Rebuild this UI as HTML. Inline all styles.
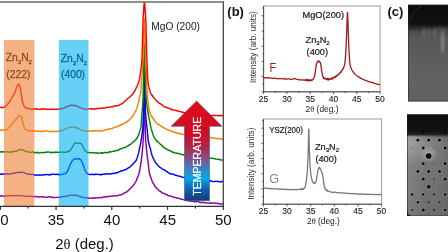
<!DOCTYPE html>
<html><head><meta charset="utf-8"><style>
html,body{margin:0;padding:0;background:#fff;width:448px;height:252px;overflow:hidden}
svg{display:block}
text{font-family:"Liberation Sans",Arial,sans-serif}
</style></head><body>
<svg width="448" height="252" viewBox="0 0 448 252">
<defs>
<clipPath id="ca"><rect x="0" y="2" width="223.3" height="204.3"/></clipPath>
<linearGradient id="tg" x1="0" y1="101" x2="0" y2="200.7" gradientUnits="userSpaceOnUse">
<stop offset="0" stop-color="#e40a1a"/>
<stop offset="0.3" stop-color="#d40a22"/>
<stop offset="0.45" stop-color="#b52242"/>
<stop offset="0.565" stop-color="#8a4a80"/>
<stop offset="0.66" stop-color="#4a78b8"/>
<stop offset="0.775" stop-color="#00aaea"/>
<stop offset="0.88" stop-color="#1462b0"/>
<stop offset="1" stop-color="#123a78"/>
</linearGradient>
<linearGradient id="c1" x1="0" y1="4.8" x2="0" y2="101.4" gradientUnits="userSpaceOnUse">
<stop offset="0" stop-color="#0b0b0b"/>
<stop offset="0.2" stop-color="#111"/>
<stop offset="0.235" stop-color="#262626"/>
<stop offset="0.28" stop-color="#4c4c4c"/>
<stop offset="0.34" stop-color="#575757"/>
<stop offset="0.42" stop-color="#585858"/>
<stop offset="0.6" stop-color="#5e5e5e"/>
<stop offset="0.8" stop-color="#626262"/>
<stop offset="1" stop-color="#616161"/>
</linearGradient>
<filter id="bl" x="-50%" y="-50%" width="200%" height="200%"><feGaussianBlur stdDeviation="1.2"/></filter>
<filter id="bl2" x="-50%" y="-50%" width="200%" height="200%"><feGaussianBlur stdDeviation="0.6"/></filter>
<linearGradient id="c2" x1="0" y1="114.4" x2="0" y2="215.7" gradientUnits="userSpaceOnUse">
<stop offset="0" stop-color="#0d0d0d"/>
<stop offset="0.17" stop-color="#131313"/>
<stop offset="0.2" stop-color="#262626"/>
<stop offset="0.225" stop-color="#6c6c6c"/>
<stop offset="0.28" stop-color="#7a7a7a"/>
<stop offset="0.5" stop-color="#737373"/>
<stop offset="1" stop-color="#6b6b6b"/>
</linearGradient>
<linearGradient id="c2h" x1="407" y1="0" x2="448" y2="0" gradientUnits="userSpaceOnUse">
<stop offset="0" stop-color="#fff" stop-opacity="0.12"/>
<stop offset="0.5" stop-color="#fff" stop-opacity="0"/>
<stop offset="1" stop-color="#000" stop-opacity="0.08"/>
</linearGradient>
<radialGradient id="glow" cx="411" cy="138" r="30" gradientUnits="userSpaceOnUse">
<stop offset="0" stop-color="#fff" stop-opacity="0.22"/>
<stop offset="1" stop-color="#fff" stop-opacity="0"/>
</radialGradient>
<radialGradient id="halo" cx="428.7" cy="154" r="9" gradientUnits="userSpaceOnUse">
<stop offset="0" stop-color="#b0b0b0" stop-opacity="0.8"/>
<stop offset="1" stop-color="#b0b0b0" stop-opacity="0"/>
</radialGradient>
</defs>

<!-- ===== Panel A ===== -->
<g clip-path="url(#ca)">
<path d="M0 196.03 L0.5 196.05 L1 195.94 L1.5 195.83 L2 195.82 L2.5 195.87 L3 196.12 L3.5 196.28 L4 196.07 L4.5 195.99 L5 196.16 L5.5 196.21 L6 196.07 L6.5 195.94 L7 196.07 L7.5 196.08 L8 195.86 L8.5 195.69 L9 195.56 L9.5 195.47 L10 195.54 L10.5 195.66 L11 195.73 L11.5 195.87 L12 195.93 L12.5 195.64 L13 195.35 L13.5 195.5 L14 195.72 L14.5 195.61 L15 195.4 L15.5 195.36 L16 195.35 L16.5 195.47 L17 195.64 L17.5 195.55 L18 195.61 L18.5 195.72 L19 195.6 L19.5 195.59 L20 195.68 L20.5 195.6 L21 195.5 L21.5 195.75 L22 195.87 L22.5 195.74 L23 195.9 L23.5 195.97 L24 196.06 L24.5 196.4 L25 196.3 L25.5 196.03 L26 196.16 L26.5 196.32 L27 196.34 L27.5 196.39 L28 196.42 L28.5 196.57 L29 196.61 L29.5 196.42 L30 196.35 L30.5 196.38 L31 196.34 L31.5 196.24 L32 196.28 L32.5 196.51 L33 196.78 L33.5 196.72 L34 196.38 L34.5 196.41 L35 196.49 L35.5 196.31 L36 196.4 L36.5 196.72 L37 196.96 L37.5 196.91 L38 196.7 L38.5 196.63 L39 196.82 L39.5 196.98 L40 196.83 L40.5 196.76 L41 196.86 L41.5 196.85 L42 196.74 L42.5 196.69 L43 196.78 L43.5 196.96 L44 197.17 L44.5 197.18 L45 197.1 L45.5 197.1 L46 197.12 L46.5 197.2 L47 197.21 L47.5 197.08 L48 196.97 L48.5 196.94 L49 196.72 L49.5 196.66 L50 196.9 L50.5 197.06 L51 197.4 L51.5 197.61 L52 197.31 L52.5 197.19 L53 197.41 L53.5 197.5 L54 197.44 L54.5 197.48 L55 197.63 L55.5 197.56 L56 197.36 L56.5 197.4 L57 197.39 L57.5 197.31 L58 197.33 L58.5 197.37 L59 197.49 L59.5 197.46 L60 197.28 L60.5 197.15 L61 196.97 L61.5 196.72 L62 196.78 L62.5 196.83 L63 196.7 L63.5 196.66 L64 196.56 L64.5 196.49 L65 196.43 L65.5 196.38 L66 196.16 L66.5 195.96 L67 196.16 L67.5 196.17 L68 195.82 L68.5 195.57 L69 195.41 L69.5 195.37 L70 195.46 L70.5 195.35 L71 195.2 L71.5 195.09 L72 194.97 L72.5 195.06 L73 195.3 L73.5 195.37 L74 195.36 L74.5 195.26 L75 195.15 L75.5 195.2 L76 195.31 L76.5 195.44 L77 195.52 L77.5 195.53 L78 195.58 L78.5 195.95 L79 196.38 L79.5 196.38 L80 196.42 L80.5 196.83 L81 197.05 L81.5 196.95 L82 197.04 L82.5 197.13 L83 197.24 L83.5 197.59 L84 197.76 L84.5 197.71 L85 197.75 L85.5 197.86 L86 197.88 L86.5 197.84 L87 197.75 L87.5 197.91 L88 198.21 L88.5 198.21 L89 198.19 L89.5 198.18 L90 198.08 L90.5 198.12 L91 198.22 L91.5 198.15 L92 198.08 L92.5 198.19 L93 198.31 L93.5 198.26 L94 198.04 L94.5 197.75 L95 197.68 L95.5 197.96 L96 198.03 L96.5 197.87 L97 197.87 L97.5 197.93 L98 197.92 L98.5 197.79 L99 197.68 L99.5 197.62 L100 197.46 L100.5 197.5 L101 197.61 L101.5 197.68 L102 197.8 L102.5 197.55 L103 196.98 L103.5 196.84 L104 197.01 L104.5 196.95 L105 196.99 L105.5 196.96 L106 196.53 L106.5 196.4 L107 196.69 L107.5 196.78 L108 196.69 L108.5 196.58 L109 196.35 L109.5 196.23 L110 196.28 L110.5 196.15 L111 196.1 L111.5 196.3 L112 196.37 L112.5 196.22 L113 196 L113.5 195.86 L114 195.78 L114.5 195.8 L115 195.84 L115.5 195.79 L116 195.82 L116.5 195.97 L117 195.88 L117.5 195.56 L118 195.48 L118.5 195.41 L119 195.12 L119.5 194.86 L120 194.87 L120.5 194.93 L121 194.76 L121.5 194.52 L122 194.4 L122.5 194.3 L123 193.87 L123.5 193.37 L124 193.11 L124.5 192.7 L125 192.38 L125.5 192.52 L126 192.55 L126.5 192.08 L127 191.49 L127.5 191.18 L128 190.94 L128.5 190.44 L129 189.84 L129.5 189.3 L130 188.85 L130.5 188.45 L131 187.96 L131.5 187.33 L132 186.72 L132.5 186.2 L133 185.68 L133.5 185.07 L134 184.33 L134.5 183.64 L135 182.89 L135.5 182.09 L136 181.36 L136.08 181.21 L136.16 180.92 L136.24 180.74 L136.32 180.46 L136.4 180.13 L136.48 180.03 L136.56 179.92 L136.64 179.67 L136.72 179.41 L136.8 179.22 L136.88 179.1 L136.96 178.97 L137.04 178.73 L137.12 178.53 L137.2 178.35 L137.28 178.05 L137.36 177.73 L137.44 177.56 L137.52 177.56 L137.6 177.45 L137.68 177.22 L137.76 176.99 L137.84 176.75 L137.92 176.52 L138 176.3 L138.08 176.1 L138.16 175.97 L138.24 175.85 L138.32 175.6 L138.4 175.28 L138.48 174.99 L138.56 174.82 L138.64 174.7 L138.72 174.45 L138.8 174.13 L138.88 173.81 L138.96 173.53 L139.04 173.34 L139.12 173.12 L139.2 172.78 L139.28 172.45 L139.36 172.15 L139.44 171.79 L139.52 171.38 L139.6 171.01 L139.68 170.64 L139.76 170.24 L139.84 169.79 L139.92 169.37 L140 168.92 L140.08 168.36 L140.16 167.82 L140.24 167.33 L140.32 166.81 L140.4 166.27 L140.48 165.82 L140.56 165.35 L140.64 164.77 L140.72 164.18 L140.8 163.65 L140.88 163.12 L140.96 162.54 L141.04 162.01 L141.12 161.5 L141.2 160.92 L141.28 160.38 L141.36 159.8 L141.44 159.16 L141.52 158.54 L141.6 157.91 L141.68 157.18 L141.76 156.44 L141.84 155.73 L141.92 155.07 L142 154.39 L142.08 153.6 L142.16 152.76 L142.24 151.93 L142.32 151.12 L142.4 150.28 L142.48 149.39 L142.56 148.48 L142.64 147.54 L142.72 146.6 L142.8 145.66 L142.88 144.7 L142.96 143.67 L143.04 142.58 L143.12 141.36 L143.2 139.98 L143.28 138.41 L143.36 136.53 L143.44 134.1 L143.52 131.21 L143.6 128.05 L143.68 124.8 L143.76 121.56 L143.84 118.44 L143.92 115.22 L144 111.95 L144.08 108.77 L144.16 105.4 L144.24 101.55 L144.32 98.34 L144.4 96.78 L144.48 98.31 L144.56 101.52 L144.64 105.38 L144.72 108.77 L144.8 112.03 L144.88 115.37 L144.96 118.56 L145.04 121.42 L145.12 124.22 L145.2 126.97 L145.28 129.62 L145.36 132.11 L145.44 134.38 L145.52 136.35 L145.6 137.96 L145.68 139.34 L145.76 140.61 L145.84 141.75 L145.92 142.79 L146 143.74 L146.08 144.6 L146.16 145.46 L146.24 146.33 L146.32 147.17 L146.4 148.01 L146.48 148.86 L146.56 149.65 L146.64 150.39 L146.72 151.17 L146.8 151.97 L146.88 152.68 L146.96 153.37 L147.04 154.13 L147.12 154.86 L147.2 155.53 L147.28 156.16 L147.36 156.79 L147.44 157.5 L147.52 158.23 L147.6 158.89 L147.68 159.5 L147.76 160.09 L147.84 160.67 L147.92 161.25 L148 161.89 L148.08 162.53 L148.16 163.12 L148.24 163.77 L148.32 164.38 L148.4 164.96 L148.48 165.62 L148.56 166.34 L148.64 167.07 L148.72 167.78 L148.8 168.5 L148.88 169.21 L148.96 169.86 L149.04 170.48 L149.12 171.1 L149.2 171.6 L149.28 171.98 L149.36 172.38 L149.44 172.75 L149.52 173.12 L149.6 173.51 L149.68 173.86 L149.76 174.18 L149.84 174.43 L149.92 174.7 L150 174.97 L150.08 175.25 L150.16 175.56 L150.24 175.85 L150.32 176.11 L150.4 176.3 L150.48 176.49 L150.56 176.76 L150.64 177.08 L150.72 177.31 L150.8 177.48 L150.88 177.65 L150.96 177.87 L151.04 178.15 L151.12 178.32 L151.2 178.5 L151.28 178.87 L151.36 179.15 L151.44 179.24 L151.52 179.41 L151.6 179.65 L151.68 179.9 L151.76 180.17 L151.84 180.34 L151.92 180.54 L152 180.79 L152.08 180.96 L152.16 181.13 L152.24 181.23 L152.32 181.3 L152.4 181.56 L152.48 181.92 L152.56 182.08 L152.64 182.19 L152.72 182.36 L152.8 182.52 L152.88 182.75 L152.96 182.94 L153 182.81 L153.5 183.56 L154 184.43 L154.5 185.33 L155 186.27 L155.5 186.98 L156 187.4 L156.5 187.91 L157 188.65 L157.5 189.18 L158 189.46 L158.5 189.97 L159 190.53 L159.5 190.97 L160 191.26 L160.5 191.5 L161 191.76 L161.5 192.23 L162 192.84 L162.5 193.13 L163 193.15 L163.5 193.16 L164 193.31 L164.5 193.69 L165 194.06 L165.5 194.29 L166 194.41 L166.5 194.53 L167 194.81 L167.5 195.18 L168 195.61 L168.5 195.83 L169 195.71 L169.5 195.7 L170 195.89 L170.5 196.02 L171 196.18 L171.5 196.37 L172 196.56 L172.5 196.84 L173 197.05 L173.5 197.17 L174 197.24 L174.5 197.26 L175 197.38 L175.5 197.59 L176 197.79 L176.5 198.01 L177 198.06 L177.5 198.07 L178 198.2 L178.5 198.27 L179 198.43 L179.5 198.52 L180 198.56 L180.5 198.89 L181 199.17 L181.5 199.24 L182 199.3 L182.5 199.37 L183 199.46 L183.5 199.62 L184 199.79 L184.5 199.88 L185 199.93 L185.5 200.15 L186 200.31 L186.5 200.33 L187 200.42 L187.5 200.46 L188 200.43 L188.5 200.66 L189 200.88 L189.5 200.95 L190 200.96 L190.5 200.9 L191 201.03 L191.5 201.26 L192 201.35 L192.5 201.22 L193 201.15 L193.5 201.47 L194 201.79 L194.5 201.82 L195 201.59 L195.5 201.5 L196 201.74 L196.5 201.63 L197 201.45 L197.5 201.64 L198 201.65 L198.5 201.64 L199 201.98 L199.5 202.27 L200 202.27 L200.5 202.42 L201 202.76 L201.5 202.77 L202 202.51 L202.5 202.31 L203 202.23 L203.5 202.38 L204 202.66 L204.5 202.77 L205 202.84 L205.5 202.85 L206 202.73 L206.5 202.81 L207 203.03 L207.5 203.15 L208 203.2 L208.5 203.11 L209 203.02 L209.5 203 L210 202.8 L210.5 202.8 L211 203.1 L211.5 203.25 L212 203.12 L212.5 202.95 L213 203.02 L213.5 203.1 L214 202.95 L214.5 202.88 L215 203.23 L215.5 203.59 L216 203.55 L216.5 203.42 L217 203.53 L217.5 203.44 L218 203.16 L218.5 203.4 L219 203.78 L219.5 203.97 L220 204.14 L220.5 204.08 L221 203.92 L221.5 203.92 L222 203.91 L222.5 203.8 L223 203.8" fill="none" stroke="#8e00a0" stroke-width="1.45" stroke-linejoin="round"/>
<path d="M0 174.12 L0.5 174.23 L1 174 L1.5 173.89 L2 174.06 L2.5 174.18 L3 174.19 L3.5 174.13 L4 173.92 L4.5 173.85 L5 174.01 L5.5 174.2 L6 174.12 L6.5 173.75 L7 173.74 L7.5 173.92 L8 173.78 L8.5 173.76 L9 174.06 L9.5 174.15 L10 173.98 L10.5 173.89 L11 173.9 L11.5 173.85 L12 173.73 L12.5 173.45 L13 173.31 L13.5 173.31 L14 173.23 L14.5 173.19 L15 172.99 L15.5 172.7 L16 172.61 L16.5 172.61 L17 172.55 L17.5 172.3 L18 172.24 L18.5 172.51 L19 172.72 L19.5 172.56 L20 172.21 L20.5 172.18 L21 172.32 L21.5 172.17 L22 172.1 L22.5 172.35 L23 172.51 L23.5 172.43 L24 172.43 L24.5 172.77 L25 173.2 L25.5 173.38 L26 173.54 L26.5 173.79 L27 173.92 L27.5 173.98 L28 174.03 L28.5 174.01 L29 174.02 L29.5 174.21 L30 174.49 L30.5 174.49 L31 174.36 L31.5 174.42 L32 174.59 L32.5 174.6 L33 174.36 L33.5 174.35 L34 174.78 L34.5 175.23 L35 175.14 L35.5 174.92 L36 175.1 L36.5 175.23 L37 174.95 L37.5 174.89 L38 175.1 L38.5 175.14 L39 175.01 L39.5 175.04 L40 175.34 L40.5 175.42 L41 175.2 L41.5 174.88 L42 174.65 L42.5 174.8 L43 174.93 L43.5 174.98 L44 174.98 L44.5 174.69 L45 174.54 L45.5 174.67 L46 174.67 L46.5 174.61 L47 174.61 L47.5 174.44 L48 174.41 L48.5 174.75 L49 174.94 L49.5 175.07 L50 175.1 L50.5 174.67 L51 174.24 L51.5 174.2 L52 174.27 L52.5 174.39 L53 174.36 L53.5 174.24 L54 174.29 L54.5 174.31 L55 174.41 L55.5 174.47 L56 174.41 L56.5 174.38 L57 174.3 L57.5 174.15 L58 174.09 L58.5 174.43 L59 174.9 L59.5 175.02 L60 174.85 L60.5 174.55 L61 174.42 L61.5 174.51 L62 174.41 L62.5 174.21 L63 174.13 L63.5 174.03 L64 173.88 L64.5 173.67 L65 173.41 L65.5 173.33 L66 173.19 L66.5 172.61 L67 171.93 L67.5 171.26 L68 170.34 L68.5 169.1 L69 167.8 L69.5 166.57 L70 165.33 L70.5 164.15 L71 163.11 L71.5 162.05 L72 161.12 L72.5 160.53 L73 160.01 L73.5 159.36 L74 159.02 L74.5 159.07 L75 159.14 L75.5 159.19 L76 159.01 L76.5 158.73 L77 158.77 L77.5 158.78 L78 158.79 L78.5 158.93 L79 158.81 L79.5 158.8 L80 159.14 L80.5 159.57 L81 160.17 L81.5 161 L82 162 L82.5 163.08 L83 164.27 L83.5 165.58 L84 167.02 L84.5 168.51 L85 169.89 L85.5 171.22 L86 172.18 L86.5 172.69 L87 173.32 L87.5 173.75 L88 173.95 L88.5 174.12 L89 174.26 L89.5 174.4 L90 174.57 L90.5 174.61 L91 174.59 L91.5 174.47 L92 174.27 L92.5 174.32 L93 174.46 L93.5 174.39 L94 174.42 L94.5 174.68 L95 174.56 L95.5 174.15 L96 174.07 L96.5 174.29 L97 174.4 L97.5 174.37 L98 174.4 L98.5 174.44 L99 174.48 L99.5 174.42 L100 174.52 L100.5 174.89 L101 174.93 L101.5 174.49 L102 174.22 L102.5 174.33 L103 174.39 L103.5 174.23 L104 174.19 L104.5 174.21 L105 174.06 L105.5 173.99 L106 173.9 L106.5 173.69 L107 173.71 L107.5 173.96 L108 174.07 L108.5 173.9 L109 173.67 L109.5 173.82 L110 174.08 L110.5 174.04 L111 173.79 L111.5 173.67 L112 173.68 L112.5 173.49 L113 173.23 L113.5 173.32 L114 173.49 L114.5 173.43 L115 173.22 L115.5 173.02 L116 172.86 L116.5 172.63 L117 172.63 L117.5 172.78 L118 172.46 L118.5 172 L119 171.82 L119.5 171.81 L120 171.67 L120.5 171.21 L121 170.83 L121.5 170.8 L122 170.77 L122.5 170.71 L123 170.63 L123.5 170.41 L124 170.06 L124.5 169.75 L125 169.76 L125.5 169.75 L126 169.37 L126.5 168.95 L127 168.77 L127.5 168.55 L128 168.08 L128.5 167.77 L129 167.62 L129.5 167.3 L130 166.85 L130.5 166.44 L131 166.01 L131.5 165.55 L132 165.02 L132.5 164.47 L133 164.08 L133.5 163.6 L134 162.91 L134.5 162.34 L135 161.77 L135.5 161.05 L136 160.27 L136.08 160.18 L136.16 160.23 L136.24 160.28 L136.32 160.04 L136.4 159.7 L136.48 159.49 L136.56 159.29 L136.64 159.13 L136.72 158.93 L136.8 158.66 L136.88 158.48 L136.96 158.32 L137.04 158.13 L137.12 157.84 L137.2 157.54 L137.28 157.37 L137.36 157.18 L137.44 156.93 L137.52 156.66 L137.6 156.31 L137.68 156.02 L137.76 155.91 L137.84 155.71 L137.92 155.4 L138 155.13 L138.08 154.86 L138.16 154.5 L138.24 154.16 L138.32 153.93 L138.4 153.64 L138.48 153.28 L138.56 152.97 L138.64 152.59 L138.72 152.23 L138.8 151.95 L138.88 151.54 L138.96 151.1 L139.04 150.78 L139.12 150.49 L139.2 150.09 L139.28 149.62 L139.36 149.22 L139.44 148.81 L139.52 148.38 L139.6 148 L139.68 147.63 L139.76 147.25 L139.84 146.92 L139.92 146.63 L140 146.3 L140.08 145.94 L140.16 145.63 L140.24 145.34 L140.32 144.97 L140.4 144.59 L140.48 144.2 L140.56 143.8 L140.64 143.36 L140.72 142.85 L140.8 142.38 L140.88 141.96 L140.96 141.56 L141.04 141.05 L141.12 140.42 L141.2 139.93 L141.28 139.52 L141.36 139.05 L141.44 138.51 L141.52 137.96 L141.6 137.43 L141.68 136.88 L141.76 136.31 L141.84 135.7 L141.92 135.07 L142 134.49 L142.08 133.92 L142.16 133.32 L142.24 132.69 L142.32 132.09 L142.4 131.55 L142.48 130.97 L142.56 130.37 L142.64 129.77 L142.72 129.16 L142.8 128.45 L142.88 127.58 L142.96 126.57 L143.04 125.37 L143.12 123.66 L143.2 121.47 L143.28 118.87 L143.36 115.9 L143.44 112.62 L143.52 109.04 L143.6 104.1 L143.68 98.22 L143.76 92.48 L143.84 87.77 L143.92 83.59 L144 79.68 L144.08 75.93 L144.16 71.87 L144.24 67.3 L144.32 63.56 L144.4 62.35 L144.48 63.58 L144.56 67.32 L144.64 71.87 L144.72 75.94 L144.8 79.84 L144.88 83.9 L144.96 87.99 L145.04 92.1 L145.12 96.66 L145.2 101.32 L145.28 105.55 L145.36 108.84 L145.44 110.89 L145.52 112.51 L145.6 113.91 L145.68 115.15 L145.76 116.23 L145.84 117.15 L145.92 118.02 L146 118.86 L146.08 119.7 L146.16 120.58 L146.24 121.4 L146.32 122.08 L146.4 122.71 L146.48 123.33 L146.56 123.97 L146.64 124.62 L146.72 125.29 L146.8 126.04 L146.88 126.81 L146.96 127.55 L147.04 128.3 L147.12 129.09 L147.2 129.92 L147.28 130.75 L147.36 131.58 L147.44 132.42 L147.52 133.22 L147.6 133.96 L147.68 134.81 L147.76 135.71 L147.84 136.57 L147.92 137.42 L148 138.24 L148.08 138.99 L148.16 139.73 L148.24 140.39 L148.32 140.86 L148.4 141.23 L148.48 141.67 L148.56 142.16 L148.64 142.61 L148.72 142.95 L148.8 143.32 L148.88 143.77 L148.96 144.12 L149.04 144.35 L149.12 144.57 L149.2 144.85 L149.28 145.12 L149.36 145.41 L149.44 145.76 L149.52 146.04 L149.6 146.35 L149.68 146.68 L149.76 146.81 L149.84 146.91 L149.92 147.2 L150 147.45 L150.08 147.56 L150.16 147.77 L150.24 148.05 L150.32 148.38 L150.4 148.71 L150.48 148.94 L150.56 149.27 L150.64 149.7 L150.72 150.09 L150.8 150.47 L150.88 150.83 L150.96 151.2 L151.04 151.53 L151.12 151.8 L151.2 152.16 L151.28 152.54 L151.36 152.9 L151.44 153.21 L151.52 153.45 L151.6 153.76 L151.68 154.11 L151.76 154.36 L151.84 154.63 L151.92 155.04 L152 155.28 L152.08 155.33 L152.16 155.64 L152.24 156.03 L152.32 156.2 L152.4 156.3 L152.48 156.45 L152.56 156.64 L152.64 156.84 L152.72 157.08 L152.8 157.32 L152.88 157.47 L152.96 157.58 L153 157.65 L153.5 158.74 L154 159.71 L154.5 160.7 L155 161.67 L155.5 162.47 L156 163.16 L156.5 163.81 L157 164.37 L157.5 164.89 L158 165.45 L158.5 165.95 L159 166.41 L159.5 166.97 L160 167.34 L160.5 167.6 L161 167.97 L161.5 168.4 L162 168.79 L162.5 169.19 L163 169.56 L163.5 169.61 L164 169.65 L164.5 169.93 L165 170.27 L165.5 170.81 L166 171.35 L166.5 171.53 L167 171.57 L167.5 171.97 L168 172.54 L168.5 172.76 L169 172.95 L169.5 173.41 L170 173.83 L170.5 173.88 L171 173.81 L171.5 173.95 L172 174.07 L172.5 174.02 L173 174.09 L173.5 174.29 L174 174.44 L174.5 174.67 L175 175.09 L175.5 175.36 L176 175.28 L176.5 175.33 L177 175.6 L177.5 175.91 L178 176.11 L178.5 176.07 L179 176.01 L179.5 176.07 L180 176.37 L180.5 176.75 L181 176.84 L181.5 176.82 L182 176.99 L182.5 177.26 L183 177.4 L183.5 177.41 L184 177.36 L184.5 177.3 L185 177.6 L185.5 177.89 L186 177.75 L186.5 177.89 L187 178.17 L187.5 178.18 L188 178.22 L188.5 178.4 L189 178.55 L189.5 178.49 L190 178.42 L190.5 178.58 L191 178.71 L191.5 178.85 L192 179.11 L192.5 179.34 L193 179.37 L193.5 179.36 L194 179.57 L194.5 179.79 L195 179.9 L195.5 179.88 L196 179.71 L196.5 179.72 L197 179.77 L197.5 179.68 L198 179.76 L198.5 179.84 L199 179.75 L199.5 179.66 L200 179.82 L200.5 180.16 L201 180.45 L201.5 180.5 L202 180.37 L202.5 180.26 L203 180.3 L203.5 180.44 L204 180.55 L204.5 180.78 L205 180.94 L205.5 180.66 L206 180.36 L206.5 180.33 L207 180.34 L207.5 180.59 L208 180.98 L208.5 180.89 L209 180.73 L209.5 181.03 L210 181.22 L210.5 181 L211 180.87 L211.5 180.99 L212 181.19 L212.5 181.38 L213 181.53 L213.5 181.61 L214 181.66 L214.5 181.66 L215 181.4 L215.5 181.12 L216 181.24 L216.5 181.4 L217 181.46 L217.5 181.54 L218 181.42 L218.5 181.44 L219 181.76 L219.5 181.82 L220 181.77 L220.5 181.89 L221 181.94 L221.5 181.61 L222 181.25 L222.5 181.36 L223 181.61" fill="none" stroke="#0000ff" stroke-width="1.45" stroke-linejoin="round"/>
<path d="M0 151.65 L0.5 151.87 L1 152.01 L1.5 151.77 L2 151.79 L2.5 152.08 L3 151.87 L3.5 151.65 L4 151.86 L4.5 151.93 L5 151.88 L5.5 151.93 L6 151.8 L6.5 151.71 L7 151.92 L7.5 152 L8 151.89 L8.5 151.89 L9 152.14 L9.5 152.28 L10 152.08 L10.5 151.98 L11 151.87 L11.5 151.77 L12 151.88 L12.5 151.96 L13 151.91 L13.5 151.65 L14 151.35 L14.5 151.27 L15 151.34 L15.5 151.37 L16 151.29 L16.5 151.07 L17 150.89 L17.5 150.67 L18 150.18 L18.5 149.69 L19 149.47 L19.5 149.58 L20 149.76 L20.5 149.72 L21 149.79 L21.5 149.97 L22 150.13 L22.5 150.15 L23 150.08 L23.5 150.17 L24 150.41 L24.5 150.66 L25 150.89 L25.5 151.28 L26 151.51 L26.5 151.42 L27 151.52 L27.5 151.7 L28 151.94 L28.5 152.16 L29 152.22 L29.5 152.15 L30 152.09 L30.5 152.23 L31 152.3 L31.5 152.35 L32 152.17 L32.5 151.84 L33 152.02 L33.5 152.48 L34 152.7 L34.5 152.61 L35 152.37 L35.5 152.34 L36 152.73 L36.5 152.9 L37 152.61 L37.5 152.3 L38 152.26 L38.5 152.74 L39 153.11 L39.5 152.97 L40 152.83 L40.5 152.62 L41 152.49 L41.5 152.54 L42 152.38 L42.5 152.38 L43 152.6 L43.5 152.71 L44 152.67 L44.5 152.52 L45 152.27 L45.5 152.2 L46 152.31 L46.5 152.24 L47 152.07 L47.5 152.09 L48 152.11 L48.5 151.98 L49 151.92 L49.5 152.07 L50 152.37 L50.5 152.7 L51 152.69 L51.5 152.29 L52 152.26 L52.5 152.5 L53 152.43 L53.5 152.49 L54 152.65 L54.5 152.39 L55 152.05 L55.5 152.09 L56 152.36 L56.5 152.35 L57 152.08 L57.5 152.13 L58 152.43 L58.5 152.46 L59 152.35 L59.5 152.45 L60 152.34 L60.5 152.05 L61 152.15 L61.5 152.31 L62 152.05 L62.5 151.84 L63 152.1 L63.5 152.47 L64 152.34 L64.5 152.14 L65 152.27 L65.5 152.17 L66 152.17 L66.5 152.27 L67 152.07 L67.5 151.68 L68 151.38 L68.5 151.26 L69 150.82 L69.5 150.52 L70 150.52 L70.5 150.14 L71 149.33 L71.5 148.41 L72 147.67 L72.5 146.93 L73 145.97 L73.5 145.02 L74 144.23 L74.5 143.61 L75 143.06 L75.5 142.9 L76 142.96 L76.5 142.86 L77 142.82 L77.5 143.03 L78 143.34 L78.5 143.32 L79 143.21 L79.5 143.22 L80 143.15 L80.5 143.36 L81 143.76 L81.5 144.1 L82 144.77 L82.5 145.77 L83 146.93 L83.5 148.15 L84 149.15 L84.5 149.95 L85 150.64 L85.5 151.03 L86 151.45 L86.5 152.14 L87 152.54 L87.5 152.39 L88 152.28 L88.5 152.42 L89 152.54 L89.5 152.68 L90 152.76 L90.5 152.82 L91 152.84 L91.5 152.74 L92 152.62 L92.5 152.57 L93 152.63 L93.5 152.72 L94 152.81 L94.5 152.9 L95 153.06 L95.5 153.06 L96 152.82 L96.5 152.75 L97 152.92 L97.5 153.27 L98 153.5 L98.5 153.31 L99 153.16 L99.5 153.09 L100 152.97 L100.5 153.01 L101 152.69 L101.5 152.58 L102 153.19 L102.5 153.21 L103 152.75 L103.5 152.66 L104 152.69 L104.5 152.54 L105 152.32 L105.5 152.38 L106 152.57 L106.5 152.66 L107 152.65 L107.5 152.67 L108 152.64 L108.5 152.34 L109 152 L109.5 151.71 L110 151.78 L110.5 151.99 L111 151.87 L111.5 151.79 L112 151.65 L112.5 151.4 L113 151.31 L113.5 151.21 L114 151.16 L114.5 151.19 L115 151.02 L115.5 150.65 L116 150.44 L116.5 150.41 L117 150.36 L117.5 150.45 L118 150.46 L118.5 150.06 L119 149.61 L119.5 149.29 L120 148.99 L120.5 148.75 L121 148.6 L121.5 148.51 L122 148.45 L122.5 148.35 L123 148.08 L123.5 147.74 L124 147.58 L124.5 147.59 L125 147.47 L125.5 147.24 L126 146.99 L126.5 146.63 L127 146.24 L127.5 146.12 L128 145.91 L128.5 145.39 L129 145.19 L129.5 145.04 L130 144.63 L130.5 144.32 L131 143.96 L131.5 143.47 L132 143.05 L132.5 142.59 L133 142.14 L133.5 141.75 L134 141.37 L134.5 140.96 L135 140.38 L135.5 139.84 L136 139.5 L136.08 139.47 L136.16 139.22 L136.24 138.99 L136.32 138.9 L136.4 138.87 L136.48 138.67 L136.56 138.46 L136.64 138.62 L136.72 138.61 L136.8 138.26 L136.88 138.16 L136.96 138.1 L137.04 137.97 L137.12 137.84 L137.2 137.6 L137.28 137.54 L137.36 137.51 L137.44 137.26 L137.52 137.05 L137.6 136.91 L137.68 136.82 L137.76 136.71 L137.84 136.5 L137.92 136.29 L138 136.1 L138.08 135.97 L138.16 135.7 L138.24 135.39 L138.32 135.27 L138.4 135.13 L138.48 135.03 L138.56 134.91 L138.64 134.57 L138.72 134.36 L138.8 134.27 L138.88 134.07 L138.96 133.84 L139.04 133.51 L139.12 133.16 L139.2 132.97 L139.28 132.82 L139.36 132.55 L139.44 132.22 L139.52 131.94 L139.6 131.66 L139.68 131.46 L139.76 131.29 L139.84 130.95 L139.92 130.57 L140 130.36 L140.08 130.19 L140.16 129.93 L140.24 129.57 L140.32 129.25 L140.4 128.93 L140.48 128.56 L140.56 128.32 L140.64 128.17 L140.72 127.9 L140.8 127.64 L140.88 127.34 L140.96 126.92 L141.04 126.46 L141.12 125.92 L141.2 124.96 L141.28 123.69 L141.36 122.3 L141.44 120.91 L141.52 119.71 L141.6 118.65 L141.68 117.61 L141.76 116.59 L141.84 115.64 L141.92 114.7 L142 113.72 L142.08 112.74 L142.16 111.78 L142.24 110.78 L142.32 109.72 L142.4 108.71 L142.48 107.76 L142.56 106.8 L142.64 105.85 L142.72 104.82 L142.8 103.64 L142.88 102.33 L142.96 100.84 L143.04 99.04 L143.12 96.57 L143.2 93.55 L143.28 90.12 L143.36 86.44 L143.44 82.71 L143.52 79.07 L143.6 75.09 L143.68 70.82 L143.76 66.55 L143.84 62.59 L143.92 59.22 L144 56.41 L144.08 53.86 L144.16 51.33 L144.24 48.4 L144.32 44.83 L144.4 43.15 L144.48 44.8 L144.56 48.39 L144.64 51.34 L144.72 53.96 L144.8 56.57 L144.88 59.28 L144.96 62.27 L145.04 65.58 L145.12 69.02 L145.2 72.46 L145.28 75.73 L145.36 78.68 L145.44 81.23 L145.52 83.66 L145.6 85.95 L145.68 88.11 L145.76 90.13 L145.84 91.98 L145.92 93.62 L146 95.03 L146.08 96.26 L146.16 97.37 L146.24 98.39 L146.32 99.33 L146.4 100.18 L146.48 100.97 L146.56 101.77 L146.64 102.54 L146.72 103.24 L146.8 103.94 L146.88 104.69 L146.96 105.37 L147.04 105.98 L147.12 106.6 L147.2 107.21 L147.28 107.78 L147.36 108.3 L147.44 108.85 L147.52 109.45 L147.6 110 L147.68 110.52 L147.76 111.03 L147.84 111.55 L147.92 112.12 L148 112.65 L148.08 113.13 L148.16 113.67 L148.24 114.14 L148.32 114.56 L148.4 114.99 L148.48 115.35 L148.56 115.71 L148.64 116.16 L148.72 116.62 L148.8 117.04 L148.88 117.44 L148.96 117.79 L149.04 118.15 L149.12 118.56 L149.2 118.94 L149.28 119.32 L149.36 119.73 L149.44 120.1 L149.52 120.5 L149.6 120.95 L149.68 121.45 L149.76 121.92 L149.84 122.33 L149.92 122.68 L150 123.07 L150.08 123.52 L150.16 123.93 L150.24 124.32 L150.32 124.77 L150.4 125.14 L150.48 125.47 L150.56 125.89 L150.64 126.28 L150.72 126.61 L150.8 126.94 L150.88 127.26 L150.96 127.62 L151.04 127.92 L151.12 128.2 L151.2 128.52 L151.28 128.78 L151.36 129 L151.44 129.25 L151.52 129.57 L151.6 129.88 L151.68 130.12 L151.76 130.45 L151.84 130.77 L151.92 130.95 L152 131.12 L152.08 131.48 L152.16 131.82 L152.24 132.04 L152.32 132.24 L152.4 132.47 L152.48 132.81 L152.56 133.13 L152.64 133.35 L152.72 133.56 L152.8 133.85 L152.88 134.15 L152.96 134.36 L153 134.4 L153.5 135.74 L154 136.96 L154.5 137.79 L155 138.6 L155.5 139.46 L156 140.22 L156.5 140.96 L157 141.36 L157.5 141.26 L158 141.46 L158.5 142.17 L159 142.86 L159.5 143.45 L160 143.93 L160.5 144.27 L161 144.67 L161.5 145.05 L162 145.57 L162.5 146.19 L163 146.72 L163.5 147.23 L164 147.45 L164.5 147.64 L165 148.18 L165.5 148.65 L166 148.75 L166.5 148.85 L167 149.33 L167.5 149.75 L168 149.83 L168.5 150.07 L169 150.51 L169.5 150.68 L170 150.73 L170.5 150.94 L171 151.22 L171.5 151.54 L172 151.87 L172.5 152.17 L173 152.19 L173.5 152.15 L174 152.48 L174.5 152.84 L175 153.01 L175.5 153.11 L176 153.03 L176.5 153.14 L177 153.39 L177.5 153.28 L178 153.34 L178.5 153.74 L179 153.88 L179.5 153.86 L180 153.86 L180.5 153.93 L181 154.15 L181.5 154.48 L182 154.57 L182.5 154.58 L183 154.82 L183.5 154.88 L184 154.99 L184.5 155.32 L185 155.32 L185.5 155.39 L186 155.68 L186.5 155.7 L187 155.74 L187.5 156 L188 156.13 L188.5 156.12 L189 156.14 L189.5 156.2 L190 156.28 L190.5 156.23 L191 156.39 L191.5 156.73 L192 156.71 L192.5 156.78 L193 157.02 L193.5 156.84 L194 156.66 L194.5 156.71 L195 156.76 L195.5 157.03 L196 157.13 L196.5 156.86 L197 156.81 L197.5 156.95 L198 156.94 L198.5 156.92 L199 156.9 L199.5 156.75 L200 156.83 L200.5 157.01 L201 157.1 L201.5 157.11 L202 157.08 L202.5 157.22 L203 157.23 L203.5 157.06 L204 156.94 L204.5 157.08 L205 157.28 L205.5 157.31 L206 157.5 L206.5 157.79 L207 157.95 L207.5 157.93 L208 157.64 L208.5 157.58 L209 157.85 L209.5 158.03 L210 158.07 L210.5 158.11 L211 158.24 L211.5 158.33 L212 158.33 L212.5 158.35 L213 158.38 L213.5 158.44 L214 158.59 L214.5 158.7 L215 158.81 L215.5 159.01 L216 159.09 L216.5 159.15 L217 159.16 L217.5 159.33 L218 159.58 L218.5 159.4 L219 159.18 L219.5 159.31 L220 159.7 L220.5 160.05 L221 160.07 L221.5 159.95 L222 159.87 L222.5 160.03 L223 160.21" fill="none" stroke="#008000" stroke-width="1.45" stroke-linejoin="round"/>
<path d="M0 130.45 L0.5 130.29 L1 130.27 L1.5 130.21 L2 130.03 L2.5 130.06 L3 129.92 L3.5 129.78 L4 130.09 L4.5 130.23 L5 129.96 L5.5 129.88 L6 129.92 L6.5 129.71 L7 129.45 L7.5 129.07 L8 128.52 L8.5 128.04 L9 127.52 L9.5 126.95 L10 126.4 L10.5 125.87 L11 125.33 L11.5 124.62 L12 123.86 L12.5 123.2 L13 122.57 L13.5 121.94 L14 121.43 L14.5 120.97 L15 120.43 L15.5 119.82 L16 119.29 L16.5 118.87 L17 118.28 L17.5 117.49 L18 116.89 L18.5 116.51 L19 116.06 L19.5 115.63 L20 115.49 L20.5 115.67 L21 116.27 L21.5 117.17 L22 118.84 L22.5 120.8 L23 123.14 L23.5 125.22 L24 127.13 L24.5 128.2 L25 128.89 L25.5 129.59 L26 129.95 L26.5 130.02 L27 130.15 L27.5 130.36 L28 130.6 L28.5 130.73 L29 130.69 L29.5 130.69 L30 130.72 L30.5 130.83 L31 131.13 L31.5 131.14 L32 130.82 L32.5 130.83 L33 131.03 L33.5 131.05 L34 130.97 L34.5 130.92 L35 131 L35.5 131.18 L36 131.22 L36.5 131.18 L37 131.21 L37.5 131.04 L38 130.96 L38.5 131.2 L39 131.3 L39.5 131.31 L40 131.5 L40.5 131.44 L41 131.1 L41.5 131.16 L42 131.59 L42.5 131.58 L43 131.17 L43.5 130.96 L44 131.03 L44.5 131.01 L45 130.98 L45.5 131.06 L46 130.99 L46.5 131.08 L47 131.32 L47.5 131.29 L48 131.32 L48.5 131.52 L49 131.52 L49.5 131.38 L50 131.27 L50.5 131.38 L51 131.67 L51.5 131.55 L52 131.25 L52.5 131.36 L53 131.56 L53.5 131.7 L54 131.88 L54.5 131.75 L55 131.42 L55.5 131.22 L56 131.17 L56.5 131.3 L57 131.6 L57.5 131.75 L58 131.3 L58.5 130.79 L59 130.85 L59.5 130.92 L60 130.73 L60.5 130.65 L61 130.71 L61.5 130.69 L62 130.46 L62.5 130.27 L63 130.19 L63.5 129.93 L64 129.59 L64.5 129.3 L65 129.17 L65.5 128.98 L66 128.58 L66.5 128.41 L67 128.28 L67.5 128 L68 127.72 L68.5 127.59 L69 127.69 L69.5 127.63 L70 127.19 L70.5 126.75 L71 126.76 L71.5 127.15 L72 127.31 L72.5 127.21 L73 127.13 L73.5 127.01 L74 127.04 L74.5 127.24 L75 127.29 L75.5 127.34 L76 127.73 L76.5 127.94 L77 127.78 L77.5 127.93 L78 128.34 L78.5 128.46 L79 128.62 L79.5 129.14 L80 129.45 L80.5 129.7 L81 130.11 L81.5 130.17 L82 130.17 L82.5 130.34 L83 130.41 L83.5 130.56 L84 130.75 L84.5 130.73 L85 130.88 L85.5 131.21 L86 131.27 L86.5 131.19 L87 131.15 L87.5 131.22 L88 131.27 L88.5 131.27 L89 131.23 L89.5 130.97 L90 130.75 L90.5 130.71 L91 130.86 L91.5 131.18 L92 131.23 L92.5 131 L93 130.89 L93.5 130.85 L94 130.7 L94.5 130.69 L95 130.7 L95.5 130.65 L96 130.79 L96.5 130.87 L97 130.7 L97.5 130.53 L98 130.7 L98.5 130.94 L99 130.9 L99.5 131.02 L100 131.01 L100.5 130.67 L101 130.6 L101.5 130.91 L102 130.92 L102.5 130.52 L103 130.43 L103.5 130.55 L104 130.57 L104.5 130.47 L105 130.17 L105.5 129.89 L106 129.83 L106.5 129.87 L107 129.45 L107.5 129.03 L108 129.11 L108.5 129.3 L109 129.31 L109.5 129.02 L110 128.82 L110.5 128.89 L111 128.83 L111.5 128.6 L112 128.46 L112.5 128.25 L113 127.96 L113.5 127.8 L114 127.58 L114.5 127.43 L115 127.31 L115.5 127.09 L116 127.06 L116.5 126.93 L117 126.5 L117.5 126.15 L118 126.01 L118.5 125.95 L119 125.78 L119.5 125.57 L120 125.32 L120.5 125.01 L121 124.7 L121.5 124.48 L122 124.46 L122.5 124.3 L123 124.07 L123.5 123.98 L124 123.52 L124.5 122.92 L125 122.67 L125.5 122.51 L126 122.51 L126.5 122.32 L127 121.7 L127.5 121.19 L128 120.83 L128.5 120.49 L129 120.18 L129.5 119.69 L130 119.13 L130.5 118.65 L131 118.04 L131.5 117.51 L132 117.01 L132.5 116.25 L133 115.35 L133.5 114.56 L134 113.8 L134.5 113.05 L135 112.21 L135.5 111.3 L136 110.44 L136.08 110.36 L136.16 110.18 L136.24 110.03 L136.32 109.88 L136.4 109.65 L136.48 109.42 L136.56 109.25 L136.64 108.97 L136.72 108.63 L136.8 108.44 L136.88 108.2 L136.96 107.88 L137.04 107.55 L137.12 107.26 L137.2 107.06 L137.28 106.87 L137.36 106.6 L137.44 106.33 L137.52 106.14 L137.6 105.86 L137.68 105.49 L137.76 105.16 L137.84 104.84 L137.92 104.55 L138 104.3 L138.08 104.05 L138.16 103.72 L138.24 103.38 L138.32 103.08 L138.4 102.79 L138.48 102.56 L138.56 102.32 L138.64 101.93 L138.72 101.47 L138.8 101.03 L138.88 100.65 L138.96 100.35 L139.04 100.08 L139.12 99.72 L139.2 99.35 L139.28 98.98 L139.36 98.67 L139.44 98.34 L139.52 97.9 L139.6 97.49 L139.68 97.17 L139.76 96.85 L139.84 96.45 L139.92 96.05 L140 95.68 L140.08 95.38 L140.16 95.16 L140.24 94.84 L140.32 94.36 L140.4 93.92 L140.48 93.44 L140.56 92.9 L140.64 92.38 L140.72 91.83 L140.8 91.21 L140.88 90.49 L140.96 89.63 L141.04 88.75 L141.12 87.8 L141.2 86.77 L141.28 85.71 L141.36 84.61 L141.44 83.45 L141.52 82.27 L141.6 81.05 L141.68 79.82 L141.76 78.65 L141.84 77.47 L141.92 76.25 L142 75.02 L142.08 73.8 L142.16 72.6 L142.24 71.39 L142.32 70.17 L142.4 68.93 L142.48 67.62 L142.56 66.27 L142.64 64.87 L142.72 63.45 L142.8 61.96 L142.88 60.39 L142.96 58.76 L143.04 57.04 L143.12 55.18 L143.2 53.23 L143.28 51.21 L143.36 49.09 L143.44 46.82 L143.52 44.38 L143.6 41.47 L143.68 38.23 L143.76 34.94 L143.84 31.92 L143.92 29.46 L144 27.43 L144.08 25.59 L144.16 23.87 L144.24 22.06 L144.32 20.02 L144.4 19.06 L144.48 20 L144.56 22.03 L144.64 23.84 L144.72 25.56 L144.8 27.39 L144.88 29.42 L144.96 31.86 L145.04 34.83 L145.12 38.08 L145.2 41.33 L145.28 44.33 L145.36 46.99 L145.44 49.53 L145.52 51.98 L145.6 54.35 L145.68 56.64 L145.76 58.88 L145.84 61.08 L145.92 63.18 L146 65.21 L146.08 67.21 L146.16 69.17 L146.24 71.12 L146.32 73.05 L146.4 75 L146.48 77.03 L146.56 79.16 L146.64 81.33 L146.72 83.5 L146.8 85.61 L146.88 87.6 L146.96 89.4 L147.04 90.96 L147.12 92.28 L147.2 93.46 L147.28 94.53 L147.36 95.51 L147.44 96.43 L147.52 97.31 L147.6 98.1 L147.68 98.86 L147.76 99.67 L147.84 100.41 L147.92 101.08 L148 101.73 L148.08 102.37 L148.16 102.99 L148.24 103.56 L148.32 104.11 L148.4 104.7 L148.48 105.3 L148.56 105.92 L148.64 106.52 L148.72 107.07 L148.8 107.54 L148.88 108.01 L148.96 108.56 L149.04 109.08 L149.12 109.59 L149.2 110.07 L149.28 110.41 L149.36 110.71 L149.44 111.05 L149.52 111.37 L149.6 111.65 L149.68 111.91 L149.76 112.23 L149.84 112.58 L149.92 112.85 L150 113.06 L150.08 113.23 L150.16 113.4 L150.24 113.61 L150.32 113.85 L150.4 114.06 L150.48 114.15 L150.56 114.21 L150.64 114.42 L150.72 114.7 L150.8 114.78 L150.88 114.92 L150.96 115.21 L151.04 115.38 L151.12 115.42 L151.2 115.58 L151.28 115.85 L151.36 115.95 L151.44 115.98 L151.52 116.01 L151.6 116.01 L151.68 116.18 L151.76 116.48 L151.84 116.67 L151.92 116.7 L152 116.7 L152.08 116.81 L152.16 116.97 L152.24 117.16 L152.32 117.47 L152.4 117.82 L152.48 118.02 L152.56 117.95 L152.64 117.79 L152.72 117.65 L152.8 117.61 L152.88 117.9 L152.96 118.25 L153 118.43 L153.5 119 L154 119.48 L154.5 120.08 L155 121.03 L155.5 122.04 L156 122.64 L156.5 122.93 L157 123.38 L157.5 124 L158 124.43 L158.5 124.54 L159 124.66 L159.5 125.01 L160 125.39 L160.5 125.7 L161 126.04 L161.5 126.37 L162 126.69 L162.5 127.06 L163 127.33 L163.5 127.53 L164 127.78 L164.5 128.12 L165 128.46 L165.5 128.7 L166 128.92 L166.5 129.05 L167 129.27 L167.5 129.63 L168 129.89 L168.5 130.21 L169 130.37 L169.5 130.32 L170 130.5 L170.5 130.79 L171 130.94 L171.5 131.19 L172 131.55 L172.5 131.77 L173 131.9 L173.5 132.04 L174 132.16 L174.5 132.26 L175 132.48 L175.5 132.73 L176 132.78 L176.5 132.74 L177 132.82 L177.5 133.1 L178 133.29 L178.5 133.29 L179 133.37 L179.5 133.81 L180 134.11 L180.5 133.99 L181 133.99 L181.5 133.94 L182 133.81 L182.5 134.05 L183 134.4 L183.5 134.65 L184 134.62 L184.5 134.55 L185 134.72 L185.5 134.85 L186 134.89 L186.5 134.89 L187 134.89 L187.5 135.12 L188 135.55 L188.5 135.8 L189 135.73 L189.5 135.7 L190 135.87 L190.5 136.03 L191 136.14 L191.5 136.07 L192 135.92 L192.5 135.94 L193 136.03 L193.5 136.1 L194 136.07 L194.5 135.85 L195 135.73 L195.5 135.81 L196 135.94 L196.5 136.23 L197 136.31 L197.5 136.29 L198 136.61 L198.5 136.83 L199 136.91 L199.5 137.18 L200 137.15 L200.5 136.89 L201 137.02 L201.5 137.16 L202 137.2 L202.5 137.2 L203 137.02 L203.5 136.94 L204 136.96 L204.5 137.05 L205 137.1 L205.5 137 L206 137.13 L206.5 137.42 L207 137.52 L207.5 137.38 L208 137.16 L208.5 137.21 L209 137.42 L209.5 137.52 L210 137.63 L210.5 137.78 L211 137.79 L211.5 137.76 L212 137.86 L212.5 137.93 L213 137.97 L213.5 138.14 L214 138.19 L214.5 138.14 L215 138.19 L215.5 138.36 L216 138.54 L216.5 138.59 L217 138.59 L217.5 138.63 L218 138.7 L218.5 138.77 L219 138.54 L219.5 138.44 L220 138.79 L220.5 138.82 L221 138.65 L221.5 138.71 L222 138.98 L222.5 139.34 L223 139.34" fill="none" stroke="#ff8000" stroke-width="1.45" stroke-linejoin="round"/>
<path d="M0 107.19 L0.5 107.39 L1 107.66 L1.5 107.75 L2 107.37 L2.5 107.12 L3 107.38 L3.5 107.51 L4 107.33 L4.5 107.13 L5 106.97 L5.5 106.51 L6 105.84 L6.5 105.33 L7 104.87 L7.5 104.36 L8 103.67 L8.5 102.97 L9 102.45 L9.5 101.77 L10 101 L10.5 100.21 L11 99.2 L11.5 98.28 L12 97.59 L12.5 96.77 L13 95.94 L13.5 95.11 L14 94.02 L14.5 92.86 L15 91.69 L15.5 90.45 L16 89.05 L16.5 87.53 L17 86.23 L17.5 85.21 L18 84.4 L18.5 84.15 L19 84.64 L19.5 85.48 L20 86.94 L20.5 89.05 L21 92.15 L21.5 95.6 L22 98.84 L22.5 101.37 L23 103.32 L23.5 104.69 L24 105.75 L24.5 106.69 L25 107.31 L25.5 107.72 L26 108.06 L26.5 108.21 L27 108.32 L27.5 108.46 L28 108.45 L28.5 108.49 L29 108.74 L29.5 109.08 L30 109.1 L30.5 108.97 L31 109.02 L31.5 108.95 L32 108.94 L32.5 109.03 L33 109.17 L33.5 109.31 L34 109.01 L34.5 108.8 L35 108.97 L35.5 108.91 L36 108.56 L36.5 108.46 L37 108.91 L37.5 109.24 L38 109.24 L38.5 109.35 L39 109.35 L39.5 109.21 L40 109.09 L40.5 108.94 L41 109 L41.5 109.23 L42 109.11 L42.5 108.92 L43 109.04 L43.5 109.05 L44 109.03 L44.5 109.13 L45 109.02 L45.5 108.8 L46 109.05 L46.5 109.32 L47 109.16 L47.5 109.23 L48 109.46 L48.5 109.34 L49 109.11 L49.5 109.15 L50 109.37 L50.5 109.4 L51 109.16 L51.5 109.13 L52 109.47 L52.5 109.61 L53 109.41 L53.5 109.26 L54 109.33 L54.5 109.43 L55 109.35 L55.5 109.16 L56 109.2 L56.5 109.18 L57 109.09 L57.5 109.19 L58 109.19 L58.5 109.11 L59 109 L59.5 108.81 L60 108.86 L60.5 108.96 L61 108.97 L61.5 108.81 L62 108.38 L62.5 108.17 L63 108.29 L63.5 108.42 L64 108.39 L64.5 107.96 L65 107.5 L65.5 107.21 L66 106.76 L66.5 106.55 L67 106.69 L67.5 106.48 L68 106.15 L68.5 106.06 L69 105.96 L69.5 105.77 L70 105.54 L70.5 105.16 L71 105.1 L71.5 105.5 L72 105.64 L72.5 105.44 L73 105.3 L73.5 105.21 L74 105.29 L74.5 105.58 L75 105.68 L75.5 105.66 L76 105.78 L76.5 105.96 L77 106.15 L77.5 106.25 L78 106.39 L78.5 106.88 L79 107.3 L79.5 107.33 L80 107.55 L80.5 108.01 L81 108.34 L81.5 108.37 L82 108.34 L82.5 108.49 L83 108.55 L83.5 108.7 L84 108.98 L84.5 109.13 L85 109.51 L85.5 109.85 L86 109.67 L86.5 109.31 L87 109.04 L87.5 108.9 L88 108.88 L88.5 108.88 L89 108.84 L89.5 108.89 L90 108.91 L90.5 108.76 L91 108.6 L91.5 108.71 L92 108.97 L92.5 109.11 L93 109.22 L93.5 109.16 L94 108.98 L94.5 108.82 L95 108.83 L95.5 109.15 L96 109.12 L96.5 108.68 L97 108.49 L97.5 108.44 L98 108.24 L98.5 108.31 L99 108.56 L99.5 108.48 L100 108.4 L100.5 108.38 L101 108.23 L101.5 108.17 L102 108.06 L102.5 107.99 L103 108 L103.5 108.05 L104 108.14 L104.5 108.11 L105 108.01 L105.5 107.79 L106 107.6 L106.5 107.36 L107 107.24 L107.5 107.45 L108 107.42 L108.5 107.27 L109 107.28 L109.5 107.15 L110 107.09 L110.5 107.14 L111 106.92 L111.5 106.75 L112 106.94 L112.5 106.87 L113 106.49 L113.5 106.17 L114 105.95 L114.5 106 L115 106.15 L115.5 105.99 L116 105.74 L116.5 105.84 L117 105.95 L117.5 105.68 L118 105.52 L118.5 105.6 L119 105.42 L119.5 105.08 L120 104.7 L120.5 104.33 L121 104.08 L121.5 103.88 L122 103.63 L122.5 103.37 L123 103.03 L123.5 102.59 L124 102.07 L124.5 101.42 L125 100.86 L125.5 100.52 L126 100.15 L126.5 99.74 L127 99.29 L127.5 98.75 L128 98.31 L128.5 98 L129 97.59 L129.5 97.15 L130 96.79 L130.5 96.31 L131 95.79 L131.5 95.49 L132 95.05 L132.5 94.29 L133 93.59 L133.5 92.92 L134 92.08 L134.5 91.25 L135 90.51 L135.5 89.53 L136 88.4 L136.08 88.25 L136.16 88.13 L136.24 87.93 L136.32 87.78 L136.4 87.63 L136.48 87.33 L136.56 87.12 L136.64 87.07 L136.72 86.97 L136.8 86.73 L136.88 86.47 L136.96 86.35 L137.04 86.26 L137.12 86.03 L137.2 85.71 L137.28 85.5 L137.36 85.28 L137.44 85.01 L137.52 84.92 L137.6 84.86 L137.68 84.61 L137.76 84.41 L137.84 84.35 L137.92 84.23 L138 83.98 L138.08 83.67 L138.16 83.5 L138.24 83.35 L138.32 83.05 L138.4 82.82 L138.48 82.74 L138.56 82.52 L138.64 82.07 L138.72 81.67 L138.8 81.46 L138.88 81.3 L138.96 81.12 L139.04 80.88 L139.12 80.54 L139.2 80.2 L139.28 79.88 L139.36 79.53 L139.44 79.18 L139.52 78.9 L139.6 78.63 L139.68 78.19 L139.76 77.65 L139.84 77.17 L139.92 76.7 L140 76.19 L140.08 75.69 L140.16 75.2 L140.24 74.68 L140.32 74.08 L140.4 73.45 L140.48 72.83 L140.56 72.24 L140.64 71.67 L140.72 71.12 L140.8 70.56 L140.88 69.99 L140.96 69.44 L141.04 68.87 L141.12 68.22 L141.2 67.55 L141.28 66.93 L141.36 66.34 L141.44 65.64 L141.52 64.83 L141.6 63.95 L141.68 63 L141.76 61.97 L141.84 60.88 L141.92 59.69 L142 57.98 L142.08 55.75 L142.16 53.19 L142.24 50.44 L142.32 47.66 L142.4 45 L142.48 42.45 L142.56 39.81 L142.64 37.1 L142.72 34.3 L142.8 31.13 L142.88 27.77 L142.96 24.51 L143.04 21.66 L143.12 19.5 L143.2 17.78 L143.28 16.27 L143.36 14.9 L143.44 13.66 L143.52 12.49 L143.6 11.36 L143.68 10.27 L143.76 9.13 L143.84 7.88 L143.92 6.59 L144 5.31 L144.08 4.1 L144.16 3.05 L144.24 2.25 L144.32 1.71 L144.4 1.43 L144.48 1.68 L144.56 2.26 L144.64 3.11 L144.72 4.17 L144.8 5.36 L144.88 6.64 L144.96 7.93 L145.04 9.13 L145.12 10.24 L145.2 11.25 L145.28 12.15 L145.36 13.11 L145.44 14.12 L145.52 15.19 L145.6 16.36 L145.68 17.66 L145.76 19.18 L145.84 21.02 L145.92 23.64 L146 26.82 L146.08 30.23 L146.16 33.51 L146.24 36.38 L146.32 39.02 L146.4 41.62 L146.48 44.31 L146.56 47.2 L146.64 50.35 L146.72 53.55 L146.8 56.62 L146.88 59.39 L146.96 61.74 L147.04 63.86 L147.12 65.85 L147.2 67.73 L147.28 69.54 L147.36 71.37 L147.44 73.26 L147.52 75.14 L147.6 76.88 L147.68 78.4 L147.76 79.59 L147.84 80.39 L147.92 81.07 L148 81.7 L148.08 82.33 L148.16 82.98 L148.24 83.6 L148.32 84.17 L148.4 84.63 L148.48 85.02 L148.56 85.42 L148.64 85.84 L148.72 86.26 L148.8 86.68 L148.88 87 L148.96 87.22 L149.04 87.56 L149.12 87.96 L149.2 88.24 L149.28 88.51 L149.36 88.83 L149.44 89.06 L149.52 89.3 L149.6 89.53 L149.68 89.82 L149.76 90.18 L149.84 90.44 L149.92 90.69 L150 91.01 L150.08 91.34 L150.16 91.59 L150.24 91.75 L150.32 91.91 L150.4 92.14 L150.48 92.37 L150.56 92.65 L150.64 92.91 L150.72 93.14 L150.8 93.41 L150.88 93.54 L150.96 93.62 L151.04 93.72 L151.12 93.87 L151.2 94.11 L151.28 94.21 L151.36 94.23 L151.44 94.44 L151.52 94.66 L151.6 94.78 L151.68 94.79 L151.76 94.72 L151.84 94.91 L151.92 95.26 L152 95.29 L152.08 95.26 L152.16 95.44 L152.24 95.51 L152.32 95.42 L152.4 95.45 L152.48 95.71 L152.56 96.04 L152.64 96.21 L152.72 96.31 L152.8 96.49 L152.88 96.52 L152.96 96.46 L153 96.54 L153.5 97.24 L154 97.86 L154.5 98.58 L155 99.27 L155.5 99.77 L156 100.19 L156.5 100.87 L157 101.5 L157.5 101.66 L158 101.91 L158.5 102.51 L159 103 L159.5 103.21 L160 103.45 L160.5 103.85 L161 104.09 L161.5 104.33 L162 104.78 L162.5 105.3 L163 105.79 L163.5 106.14 L164 106.44 L164.5 106.77 L165 107.04 L165.5 107.17 L166 107.11 L166.5 107.29 L167 107.66 L167.5 107.78 L168 107.98 L168.5 108.23 L169 108.36 L169.5 108.64 L170 108.79 L170.5 108.75 L171 109.22 L171.5 109.67 L172 109.57 L172.5 109.58 L173 109.91 L173.5 110.04 L174 109.89 L174.5 109.97 L175 110.22 L175.5 110.43 L176 110.6 L176.5 110.71 L177 110.77 L177.5 110.84 L178 110.91 L178.5 111.04 L179 111.26 L179.5 111.35 L180 111.53 L180.5 111.87 L181 111.84 L181.5 111.82 L182 112.08 L182.5 112.2 L183 112.32 L183.5 112.46 L184 112.56 L184.5 112.61 L185 112.62 L185.5 112.91 L186 113.03 L186.5 112.78 L187 112.92 L187.5 113.13 L188 112.98 L188.5 113.17 L189 113.59 L189.5 113.74 L190 113.89 L190.5 113.87 L191 113.78 L191.5 113.89 L192 114.07 L192.5 114.17 L193 114.14 L193.5 114.1 L194 114.24 L194.5 114.45 L195 114.36 L195.5 114.1 L196 114.15 L196.5 114.32 L197 114.31 L197.5 114.28 L198 114.31 L198.5 114.49 L199 114.76 L199.5 114.88 L200 114.98 L200.5 115.11 L201 115.24 L201.5 115.47 L202 115.37 L202.5 115.06 L203 114.69 L203.5 114.47 L204 114.79 L204.5 115.25 L205 115.32 L205.5 115.22 L206 115.34 L206.5 115.36 L207 115.09 L207.5 114.87 L208 115.03 L208.5 115.28 L209 115.39 L209.5 115.29 L210 115.23 L210.5 115.48 L211 115.62 L211.5 115.64 L212 115.73 L212.5 115.7 L213 115.41 L213.5 115.1 L214 115.23 L214.5 115.66 L215 115.75 L215.5 115.56 L216 115.46 L216.5 115.51 L217 115.53 L217.5 115.45 L218 115.62 L218.5 115.93 L219 115.78 L219.5 115.42 L220 115.29 L220.5 115.46 L221 115.78 L221.5 115.83 L222 115.7 L222.5 115.64 L223 115.64" fill="none" stroke="#ff0000" stroke-width="1.45" stroke-linejoin="round"/>

</g>
<g font-size="10.3" fill="#000" stroke="#000" stroke-width="0.3">
<text x="5.8" y="61">Zn<tspan font-size="6" dy="2.9">3</tspan><tspan dy="-2.9">N</tspan><tspan font-size="6" dy="2.9">2</tspan></text>
<text x="6.3" y="77.7">(222)</text>
<text x="60.8" y="61.6">Zn<tspan font-size="6" dy="2.9">3</tspan><tspan dy="-2.9">N</tspan><tspan font-size="6" dy="2.9">2</tspan></text>
<text x="61" y="77.8">(400)</text>
</g>
<rect x="4" y="40" width="30.4" height="166.3" fill="#ed7d31" opacity="0.6"/>
<rect x="58.9" y="40" width="29.6" height="166.3" fill="#00b0f0" opacity="0.6"/>
<text x="151.3" y="30" font-size="10.2" fill="#1a1a1a">MgO (200)</text>
<path d="M196.6 101 L222 126.3 L209.5 126.3 L209.5 200.7 L184.5 200.7 L184.5 126.3 L171.1 126.3 Z" fill="url(#tg)" stroke="#3a5a8a" stroke-width="0.6"/>
<text transform="translate(201.2 195.8) rotate(-90)" font-size="11.5" fill="#fff" stroke="#fff" stroke-width="0.2" textLength="79" lengthAdjust="spacingAndGlyphs">TEMPERATURE</text>
<g stroke="#555" fill="none">
<line x1="0" y1="2" x2="223.3" y2="2" stroke-width="1.6" stroke="#6a6a6a"/>
<line x1="223.3" y1="1.2" x2="223.3" y2="206.3" stroke-width="1.3" stroke="#444"/>
<line x1="0" y1="206.3" x2="224" y2="206.3" stroke-width="1.3" stroke="#333"/>
</g>
<g stroke="#333" stroke-width="1.2"><line x1="0.3" y1="206.3" x2="0.3" y2="209.9"/><line x1="28.18" y1="206.3" x2="28.18" y2="208.5"/><line x1="56.05" y1="206.3" x2="56.05" y2="209.9"/><line x1="83.92" y1="206.3" x2="83.92" y2="208.5"/><line x1="111.8" y1="206.3" x2="111.8" y2="209.9"/><line x1="139.68" y1="206.3" x2="139.68" y2="208.5"/><line x1="167.55" y1="206.3" x2="167.55" y2="209.9"/><line x1="195.43" y1="206.3" x2="195.43" y2="208.5"/><line x1="223.3" y1="206.3" x2="223.3" y2="209.9"/></g>
<g font-size="15" fill="#111" text-anchor="middle">
<text x="0.3" y="225">30</text><text x="56.1" y="225">35</text><text x="111.9" y="225">40</text><text x="167.7" y="225">45</text><text x="223.3" y="225">50</text>
</g>
<text x="55.2" y="248.8" font-size="15" fill="#111">2<tspan font-family="'Liberation Serif', serif" font-size="14.5">θ</tspan> (deg.)</text>

<!-- ===== Panel B ===== -->
<text x="227.3" y="16.4" font-size="13" font-weight="bold" fill="#111">(b)</text>
<g stroke="#999" stroke-width="1" fill="none">
<rect x="263.6" y="6" width="116.5" height="85.8"/>
<rect x="263.4" y="119" width="118.2" height="85.2"/>
</g>
<g stroke="#444" stroke-width="0.9">
<line x1="263.6" y1="6" x2="263.6" y2="91.8"/><line x1="263.6" y1="91.8" x2="380.1" y2="91.8"/>
<line x1="263.4" y1="119" x2="263.4" y2="204.2"/><line x1="263.4" y1="204.2" x2="381.6" y2="204.2"/>
<line x1="263.6" y1="91.8" x2="263.6" y2="94"/><line x1="275.25" y1="91.8" x2="275.25" y2="93.1"/><line x1="286.9" y1="91.8" x2="286.9" y2="94"/><line x1="298.55" y1="91.8" x2="298.55" y2="93.1"/><line x1="310.2" y1="91.8" x2="310.2" y2="94"/><line x1="321.85" y1="91.8" x2="321.85" y2="93.1"/><line x1="333.5" y1="91.8" x2="333.5" y2="94"/><line x1="345.15" y1="91.8" x2="345.15" y2="93.1"/><line x1="356.8" y1="91.8" x2="356.8" y2="94"/><line x1="368.45" y1="91.8" x2="368.45" y2="93.1"/><line x1="380.1" y1="91.8" x2="380.1" y2="94"/><line x1="263.6" y1="91.8" x2="261.6" y2="91.8"/><line x1="263.6" y1="84.2" x2="262.4" y2="84.2"/><line x1="263.6" y1="76.6" x2="261.6" y2="76.6"/><line x1="263.6" y1="69" x2="262.4" y2="69"/><line x1="263.6" y1="61.4" x2="261.6" y2="61.4"/><line x1="263.6" y1="53.8" x2="262.4" y2="53.8"/><line x1="263.6" y1="46.2" x2="261.6" y2="46.2"/><line x1="263.6" y1="38.6" x2="262.4" y2="38.6"/><line x1="263.6" y1="31" x2="261.6" y2="31"/><line x1="263.6" y1="23.4" x2="262.4" y2="23.4"/><line x1="263.6" y1="15.8" x2="261.6" y2="15.8"/><line x1="263.6" y1="8.2" x2="262.4" y2="8.2"/>
<line x1="263.4" y1="204.2" x2="263.4" y2="206.4"/><line x1="275.22" y1="204.2" x2="275.22" y2="205.5"/><line x1="287.04" y1="204.2" x2="287.04" y2="206.4"/><line x1="298.86" y1="204.2" x2="298.86" y2="205.5"/><line x1="310.68" y1="204.2" x2="310.68" y2="206.4"/><line x1="322.5" y1="204.2" x2="322.5" y2="205.5"/><line x1="334.32" y1="204.2" x2="334.32" y2="206.4"/><line x1="346.14" y1="204.2" x2="346.14" y2="205.5"/><line x1="357.96" y1="204.2" x2="357.96" y2="206.4"/><line x1="369.78" y1="204.2" x2="369.78" y2="205.5"/><line x1="381.6" y1="204.2" x2="381.6" y2="206.4"/><line x1="263.4" y1="204.2" x2="261.4" y2="204.2"/><line x1="263.4" y1="196.6" x2="262.2" y2="196.6"/><line x1="263.4" y1="189" x2="261.4" y2="189"/><line x1="263.4" y1="181.4" x2="262.2" y2="181.4"/><line x1="263.4" y1="173.8" x2="261.4" y2="173.8"/><line x1="263.4" y1="166.2" x2="262.2" y2="166.2"/><line x1="263.4" y1="158.6" x2="261.4" y2="158.6"/><line x1="263.4" y1="151" x2="262.2" y2="151"/><line x1="263.4" y1="143.4" x2="261.4" y2="143.4"/><line x1="263.4" y1="135.8" x2="262.2" y2="135.8"/><line x1="263.4" y1="128.2" x2="261.4" y2="128.2"/><line x1="263.4" y1="120.6" x2="262.2" y2="120.6"/>
</g>
<path d="M263.6 77.56 L264.1 77.71 L264.6 77.86 L265.1 77.89 L265.6 77.76 L266.1 77.75 L266.6 77.85 L267.1 77.78 L267.6 77.68 L268.1 77.74 L268.6 77.9 L269.1 77.97 L269.6 78.03 L270.1 78.13 L270.6 78.18 L271.1 78.14 L271.6 78.1 L272.1 78.13 L272.6 78.24 L273.1 78.3 L273.6 78.29 L274.1 78.28 L274.6 78.21 L275.1 78.13 L275.6 78.23 L276.1 78.42 L276.6 78.55 L277.1 78.6 L277.6 78.58 L278.1 78.63 L278.6 78.72 L279.1 78.67 L279.6 78.56 L280.1 78.57 L280.6 78.59 L281.1 78.6 L281.6 78.73 L282.1 78.8 L282.6 78.82 L283.1 78.9 L283.6 78.84 L284.1 78.77 L284.6 78.77 L285.1 78.8 L285.6 78.89 L286.1 79 L286.6 79.1 L287.1 79.11 L287.6 79.04 L288.1 78.95 L288.6 78.9 L289.1 78.96 L289.6 79.06 L290.1 79.18 L290.6 79.27 L291.1 79.36 L291.6 79.37 L292.1 79.31 L292.6 79.16 L293.1 78.96 L293.6 78.78 L294.1 78.57 L294.6 78.4 L295.1 78.58 L295.6 78.91 L296.1 79.09 L296.6 79.23 L297.1 79.29 L297.6 79.38 L298.1 79.58 L298.6 79.67 L299.1 79.75 L299.6 79.97 L300.1 79.98 L300.6 79.83 L301.1 79.87 L301.6 79.93 L302.1 79.92 L302.6 79.93 L303.1 79.98 L303.6 80.08 L304.1 80.08 L304.6 80.09 L305 80.16 L305.05 80.16 L305.1 80.1 L305.15 80.14 L305.2 80.2 L305.25 80.13 L305.3 80 L305.35 79.93 L305.4 79.92 L305.45 79.93 L305.5 80.01 L305.55 79.98 L305.6 79.88 L305.65 79.99 L305.7 80.11 L305.75 80.06 L305.8 80.04 L305.85 80.1 L305.9 80.01 L305.95 79.89 L306 79.93 L306.05 80.07 L306.1 80.22 L306.15 80.24 L306.2 80.11 L306.25 79.97 L306.3 79.95 L306.35 79.99 L306.4 79.97 L306.45 79.95 L306.5 80.07 L306.55 80.17 L306.6 80.16 L306.65 80.12 L306.7 80.01 L306.75 79.94 L306.8 80.07 L306.85 80.26 L306.9 80.26 L306.95 80.21 L307 80.22 L307.05 80.25 L307.1 80.3 L307.15 80.25 L307.2 80.19 L307.25 80.19 L307.3 80.1 L307.35 80 L307.4 80.03 L307.45 80.14 L307.5 80.19 L307.55 80.17 L307.6 80.22 L307.65 80.29 L307.7 80.2 L307.75 80.18 L307.8 80.35 L307.85 80.41 L307.9 80.24 L307.95 80.06 L308 80.12 L308.05 80.26 L308.1 80.33 L308.15 80.31 L308.2 80.22 L308.25 80.21 L308.3 80.28 L308.35 80.33 L308.4 80.35 L308.45 80.31 L308.5 80.18 L308.55 80.06 L308.6 80.08 L308.65 80.12 L308.7 80.2 L308.75 80.39 L308.8 80.45 L308.85 80.31 L308.9 80.19 L308.95 80.19 L309 80.28 L309.05 80.39 L309.1 80.4 L309.15 80.32 L309.2 80.18 L309.25 80.06 L309.3 80.08 L309.35 80.17 L309.4 80.28 L309.45 80.28 L309.5 80.21 L309.55 80.3 L309.6 80.38 L309.65 80.24 L309.7 80.16 L309.75 80.21 L309.8 80.21 L309.85 80.25 L309.9 80.41 L309.95 80.4 L310 80.22 L310.05 80.22 L310.1 80.3 L310.15 80.28 L310.2 80.26 L310.25 80.3 L310.3 80.35 L310.35 80.29 L310.4 80.26 L310.45 80.29 L310.5 80.29 L310.55 80.32 L310.6 80.36 L310.65 80.33 L310.7 80.29 L310.75 80.23 L310.8 80.14 L310.85 80.1 L310.9 80.14 L310.95 80.19 L311 80.15 L311.05 80.13 L311.1 80.23 L311.15 80.21 L311.2 80.17 L311.25 80.29 L311.3 80.28 L311.35 80.24 L311.4 80.29 L311.45 80.22 L311.5 80.23 L311.55 80.29 L311.6 80.17 L311.65 80.14 L311.7 80.17 L311.75 80.09 L311.8 80.1 L311.85 80.25 L311.9 80.3 L311.95 80.13 L312 80.09 L312.05 80.14 L312.1 80.06 L312.15 79.99 L312.2 80.03 L312.25 80.06 L312.3 80.07 L312.35 80.09 L312.4 80.05 L312.45 79.97 L312.5 79.86 L312.55 79.76 L312.6 79.75 L312.65 79.74 L312.7 79.68 L312.75 79.61 L312.8 79.59 L312.85 79.67 L312.9 79.64 L312.95 79.48 L313 79.37 L313.05 79.34 L313.1 79.32 L313.15 79.24 L313.2 79.12 L313.25 79.04 L313.3 78.95 L313.35 78.87 L313.4 78.82 L313.45 78.74 L313.5 78.68 L313.55 78.64 L313.6 78.57 L313.65 78.48 L313.7 78.37 L313.75 78.26 L313.8 78.18 L313.85 78.1 L313.9 78.01 L313.95 77.93 L314 77.8 L314.05 77.63 L314.1 77.51 L314.15 77.4 L314.2 77.27 L314.25 77.07 L314.3 76.88 L314.35 76.77 L314.4 76.64 L314.45 76.44 L314.5 76.24 L314.55 76.02 L314.6 75.79 L314.65 75.62 L314.7 75.44 L314.75 75.22 L314.8 74.99 L314.85 74.74 L314.9 74.49 L314.95 74.25 L315 74.03 L315.05 73.78 L315.1 73.44 L315.15 73.06 L315.2 72.66 L315.25 72.28 L315.3 71.88 L315.35 71.44 L315.4 71.01 L315.45 70.61 L315.5 70.24 L315.55 69.86 L315.6 69.48 L315.65 69.15 L315.7 68.83 L315.75 68.45 L315.8 68.11 L315.85 67.8 L315.9 67.46 L315.95 67.07 L316 66.71 L316.05 66.43 L316.1 66.13 L316.15 65.75 L316.2 65.43 L316.25 65.17 L316.3 64.92 L316.35 64.65 L316.4 64.39 L316.45 64.13 L316.5 63.95 L316.55 63.83 L316.6 63.64 L316.65 63.38 L316.7 63.27 L316.75 63.22 L316.8 63.04 L316.85 62.86 L316.9 62.77 L316.95 62.67 L317 62.55 L317.05 62.43 L317.1 62.33 L317.15 62.25 L317.2 62.17 L317.25 62.06 L317.3 61.99 L317.35 61.98 L317.4 61.98 L317.45 61.91 L317.5 61.82 L317.55 61.8 L317.6 61.79 L317.65 61.77 L317.7 61.76 L317.75 61.77 L317.8 61.7 L317.85 61.54 L317.9 61.48 L317.95 61.51 L318 61.47 L318.05 61.34 L318.1 61.18 L318.15 61.15 L318.2 61.29 L318.25 61.38 L318.3 61.3 L318.35 61.21 L318.4 61.24 L318.45 61.23 L318.5 61.23 L318.55 61.22 L318.6 61.12 L318.65 61.03 L318.7 60.97 L318.75 60.98 L318.8 61.06 L318.85 61.21 L318.9 61.31 L318.95 61.36 L319 61.34 L319.05 61.3 L319.1 61.34 L319.15 61.39 L319.2 61.45 L319.25 61.45 L319.3 61.42 L319.35 61.48 L319.4 61.55 L319.45 61.6 L319.5 61.73 L319.55 61.8 L319.6 61.73 L319.65 61.65 L319.7 61.65 L319.75 61.76 L319.8 61.81 L319.85 61.84 L319.9 62 L319.95 62.12 L320 62.15 L320.05 62.21 L320.1 62.32 L320.15 62.43 L320.2 62.5 L320.25 62.66 L320.3 62.86 L320.35 62.96 L320.4 63.05 L320.45 63.15 L320.5 63.26 L320.55 63.43 L320.6 63.6 L320.65 63.75 L320.7 63.99 L320.75 64.27 L320.8 64.52 L320.85 64.76 L320.9 65.06 L320.95 65.42 L321 65.82 L321.05 66.2 L321.1 66.56 L321.15 66.92 L321.2 67.29 L321.25 67.7 L321.3 68.08 L321.35 68.45 L321.4 68.82 L321.45 69.19 L321.5 69.5 L321.55 69.78 L321.6 70.1 L321.65 70.47 L321.7 70.84 L321.75 71.18 L321.8 71.51 L321.85 71.86 L321.9 72.22 L321.95 72.55 L322 72.86 L322.05 73.15 L322.1 73.45 L322.15 73.75 L322.2 73.99 L322.25 74.22 L322.3 74.49 L322.35 74.75 L322.4 74.97 L322.45 75.18 L322.5 75.35 L322.55 75.5 L322.6 75.67 L322.65 75.89 L322.7 76.13 L322.75 76.31 L322.8 76.46 L322.85 76.6 L322.9 76.71 L322.95 76.81 L323 76.94 L323.05 77.07 L323.1 77.15 L323.15 77.21 L323.2 77.24 L323.25 77.25 L323.3 77.3 L323.35 77.39 L323.4 77.45 L323.45 77.44 L323.5 77.58 L323.55 77.77 L323.6 77.71 L323.65 77.66 L323.7 77.79 L323.75 77.91 L323.8 77.93 L323.85 77.96 L323.9 77.98 L323.95 78.08 L324 78.24 L324.05 78.17 L324.1 78.06 L324.15 78.11 L324.2 78.21 L324.25 78.28 L324.3 78.32 L324.35 78.26 L324.4 78.23 L324.45 78.31 L324.5 78.35 L324.55 78.31 L324.6 78.28 L324.65 78.32 L324.7 78.39 L324.75 78.41 L324.8 78.41 L324.85 78.49 L324.9 78.53 L324.95 78.48 L325 78.48 L325.05 78.57 L325.1 78.58 L325.15 78.5 L325.2 78.5 L325.25 78.55 L325.3 78.66 L325.35 78.77 L325.4 78.76 L325.45 78.74 L325.5 78.82 L325.55 78.98 L325.6 79.03 L325.65 78.94 L325.7 78.79 L325.75 78.81 L325.8 78.96 L325.85 78.96 L325.9 78.95 L325.95 78.95 L326 78.94 L326.05 79.03 L326.1 79.08 L326.15 79.06 L326.2 79.05 L326.25 79.07 L326.3 79.1 L326.35 79.2 L326.4 79.29 L326.45 79.28 L326.5 79.26 L326.55 79.13 L326.6 79.02 L326.65 79.14 L326.7 79.22 L326.75 79.2 L326.8 79.15 L326.85 79.09 L326.9 79.17 L326.95 79.34 L327 79.38 L327.05 79.24 L327.1 79.23 L327.15 79.33 L327.2 79.36 L327.25 79.43 L327.3 79.35 L327.35 79.26 L327.4 79.42 L327.45 79.43 L327.5 79.32 L327.55 79.36 L327.6 79.41 L327.65 79.4 L327.7 79.26 L327.75 79.16 L327.8 79.31 L327.85 79.49 L327.9 79.6 L327.95 79.57 L328 79.42 L328.05 79.27 L328.1 79.22 L328.15 79.2 L328.2 79.18 L328.25 79.11 L328.3 79.05 L328.35 79.17 L328.4 79.38 L328.45 79.52 L328.5 79.42 L328.55 79.27 L328.6 79.23 L328.65 79.14 L328.7 79.06 L328.75 79.12 L328.8 79.3 L328.85 79.29 L328.9 79.15 L328.95 79.21 L329 79.32 L329.05 79.31 L329.1 79.22 L329.15 79.12 L329.2 79.11 L329.25 79.21 L329.3 79.23 L329.35 79.1 L329.4 79.09 L329.45 79.18 L329.5 79.18 L329.55 79.22 L329.6 79.25 L329.65 79.3 L329.7 79.35 L329.75 79.3 L329.8 79.18 L329.85 79.04 L329.9 79.04 L329.95 79.2 L330 79.32 L330.05 79.37 L330.1 79.35 L330.15 79.21 L330.2 79.14 L330.25 79.15 L330.3 79.09 L330.35 78.99 L330.4 78.98 L330.45 79.01 L330.5 78.98 L330.55 78.93 L330.6 78.93 L330.65 78.95 L330.7 78.95 L330.75 78.9 L330.8 78.81 L330.85 78.86 L330.9 78.93 L330.95 78.86 L331 78.81 L331.05 78.72 L331.1 78.64 L331.15 78.76 L331.2 78.79 L331.25 78.73 L331.3 78.73 L331.35 78.66 L331.4 78.61 L331.45 78.64 L331.5 78.72 L331.55 78.75 L331.6 78.64 L331.65 78.66 L331.7 78.64 L331.75 78.41 L331.8 78.39 L331.85 78.51 L331.9 78.54 L331.95 78.57 L332 78.59 L332.05 78.46 L332.1 78.26 L332.15 78.21 L332.2 78.3 L332.25 78.36 L332.3 78.38 L332.35 78.35 L332.4 78.32 L332.45 78.45 L332.5 78.48 L332.55 78.35 L332.6 78.19 L332.65 78.15 L332.7 78.15 L332.75 78.11 L332.8 78.1 L332.85 78.16 L332.9 78.18 L332.95 78.13 L333 78.12 L333.05 78.15 L333.1 78.01 L333.15 77.81 L333.2 77.85 L333.25 77.98 L333.3 78.01 L333.35 77.93 L333.4 77.85 L333.45 77.85 L333.5 77.86 L333.55 77.8 L333.6 77.72 L333.65 77.73 L333.7 77.75 L333.75 77.65 L333.8 77.59 L333.85 77.64 L333.9 77.64 L333.95 77.64 L334 77.68 L334.05 77.71 L334.1 77.64 L334.15 77.51 L334.2 77.41 L334.25 77.43 L334.3 77.53 L334.35 77.55 L334.4 77.48 L334.45 77.31 L334.5 77.22 L334.55 77.33 L334.6 77.33 L334.65 77.25 L334.7 77.24 L334.75 77.24 L334.8 77.15 L334.85 77.06 L334.9 77.09 L334.95 77.04 L335 77.03 L335.05 77.13 L335.1 77.07 L335.15 76.87 L335.2 76.77 L335.25 76.83 L335.3 76.87 L335.35 76.77 L335.4 76.66 L335.45 76.6 L335.5 76.6 L335.55 76.67 L335.6 76.73 L335.65 76.68 L335.7 76.56 L335.75 76.55 L335.8 76.53 L335.85 76.45 L335.9 76.48 L335.95 76.54 L336 76.48 L336.05 76.38 L336.1 76.29 L336.15 76.19 L336.2 76.11 L336.25 76.17 L336.3 76.3 L336.35 76.33 L336.4 76.25 L336.45 76.13 L336.5 76.01 L336.55 75.93 L336.6 75.92 L336.65 75.9 L336.7 75.86 L336.75 75.82 L336.8 75.69 L336.85 75.56 L336.9 75.53 L336.95 75.48 L337 75.52 L337.05 75.62 L337.1 75.59 L337.15 75.56 L337.2 75.6 L337.25 75.54 L337.3 75.45 L337.35 75.44 L337.4 75.39 L337.45 75.31 L337.5 75.22 L337.55 75.1 L337.6 75.06 L337.65 75.11 L337.7 75.1 L337.75 75.03 L337.8 75 L337.85 75.05 L337.9 75.05 L337.95 75 L338 74.91 L338.05 74.78 L338.1 74.71 L338.15 74.69 L338.2 74.62 L338.25 74.61 L338.3 74.64 L338.35 74.52 L338.4 74.42 L338.45 74.48 L338.5 74.51 L338.55 74.43 L338.6 74.35 L338.65 74.23 L338.7 74.13 L338.75 74.08 L338.8 74.12 L338.85 74.12 L338.9 74.04 L338.95 73.99 L339 73.88 L339.05 73.84 L339.1 73.87 L339.15 73.83 L339.2 73.69 L339.25 73.58 L339.3 73.55 L339.35 73.59 L339.4 73.63 L339.45 73.53 L339.5 73.38 L339.55 73.28 L339.6 73.21 L339.65 73.2 L339.7 73.22 L339.75 73.19 L339.8 73.11 L339.85 73.02 L339.9 72.99 L339.95 72.98 L340 72.83 L340.05 72.72 L340.1 72.73 L340.15 72.68 L340.2 72.66 L340.25 72.66 L340.3 72.59 L340.35 72.54 L340.4 72.51 L340.45 72.54 L340.5 72.49 L340.55 72.33 L340.6 72.22 L340.65 72.17 L340.7 72.18 L340.75 72.14 L340.8 72.03 L340.85 71.97 L340.9 71.87 L340.95 71.75 L341 71.76 L341.05 71.84 L341.1 71.79 L341.15 71.65 L341.2 71.6 L341.25 71.52 L341.3 71.39 L341.35 71.42 L341.4 71.47 L341.45 71.34 L341.5 71.24 L341.55 71.18 L341.6 71.08 L341.65 71.04 L341.7 71.03 L341.75 70.95 L341.8 70.85 L341.85 70.77 L341.9 70.71 L341.95 70.68 L342 70.66 L342.05 70.56 L342.1 70.36 L342.15 70.23 L342.2 70.26 L342.25 70.23 L342.3 70.04 L342.35 69.89 L342.4 69.88 L342.45 69.88 L342.5 69.77 L342.55 69.68 L342.6 69.68 L342.65 69.63 L342.7 69.51 L342.75 69.38 L342.8 69.32 L342.85 69.31 L342.9 69.21 L342.95 69.02 L343 68.86 L343.05 68.79 L343.1 68.74 L343.15 68.65 L343.2 68.58 L343.25 68.49 L343.3 68.38 L343.35 68.28 L343.4 68.14 L343.45 67.98 L343.5 67.92 L343.55 67.85 L343.6 67.66 L343.65 67.53 L343.7 67.46 L343.75 67.3 L343.8 67.11 L343.85 66.99 L343.9 66.92 L343.95 66.84 L344 66.69 L344.05 66.52 L344.1 66.34 L344.15 66.15 L344.2 65.97 L344.25 65.8 L344.3 65.65 L344.35 65.5 L344.4 65.29 L344.45 65.06 L344.5 64.86 L344.55 64.62 L344.6 64.36 L344.65 64.12 L344.7 63.85 L344.75 63.59 L344.8 63.29 L344.85 62.96 L344.9 62.61 L344.95 62.23 L345 61.82 L345.05 61.4 L345.1 60.97 L345.15 60.52 L345.2 60.05 L345.25 59.57 L345.3 59.06 L345.35 58.51 L345.4 57.97 L345.45 57.41 L345.5 56.78 L345.55 56.08 L345.6 55.33 L345.65 54.52 L345.7 53.67 L345.75 52.77 L345.8 51.85 L345.85 50.9 L345.9 49.95 L345.95 48.98 L346 47.99 L346.05 46.99 L346.1 46 L346.15 45 L346.2 43.96 L346.25 42.89 L346.3 41.78 L346.35 40.65 L346.4 39.49 L346.45 38.31 L346.5 37.1 L346.55 35.86 L346.6 34.6 L346.65 33.32 L346.7 32 L346.75 30.6 L346.8 29.08 L346.85 27.48 L346.9 25.86 L346.95 24.26 L347 22.72 L347.05 21.28 L347.1 20.01 L347.15 18.77 L347.2 17.46 L347.25 16.15 L347.3 14.91 L347.35 13.84 L347.4 12.99 L347.45 12.43 L347.5 12.18 L347.55 12.39 L347.6 12.99 L347.65 13.87 L347.7 14.94 L347.75 16.15 L347.8 17.45 L347.85 18.76 L347.9 20 L347.95 21.26 L348 22.66 L348.05 24.17 L348.1 25.74 L348.15 27.33 L348.2 28.93 L348.25 30.5 L348.3 31.99 L348.35 33.45 L348.4 34.94 L348.45 36.42 L348.5 37.89 L348.55 39.36 L348.6 40.8 L348.65 42.19 L348.7 43.52 L348.75 44.79 L348.8 45.99 L348.85 47.16 L348.9 48.3 L348.95 49.42 L349 50.51 L349.05 51.54 L349.1 52.53 L349.15 53.48 L349.2 54.36 L349.25 55.2 L349.3 55.99 L349.35 56.74 L349.4 57.49 L349.45 58.22 L349.5 58.95 L349.55 59.64 L349.6 60.29 L349.65 60.91 L349.7 61.52 L349.75 62.08 L349.8 62.59 L349.85 63.08 L349.9 63.52 L349.95 63.91 L350 64.25 L350.05 64.52 L350.1 64.75 L350.15 64.99 L350.2 65.24 L350.25 65.47 L350.3 65.7 L350.35 65.93 L350.4 66.16 L350.45 66.34 L350.5 66.48 L350.55 66.65 L350.6 66.87 L350.65 67.05 L350.7 67.21 L350.75 67.36 L350.8 67.52 L350.85 67.68 L350.9 67.81 L350.95 67.9 L351 67.98 L351.05 68.12 L351.1 68.25 L351.15 68.36 L351.2 68.5 L351.25 68.67 L351.3 68.78 L351.35 68.82 L351.4 68.93 L351.45 69.09 L351.5 69.23 L351.55 69.33 L351.6 69.42 L351.65 69.53 L351.7 69.67 L351.75 69.78 L351.8 69.83 L351.85 69.88 L351.9 69.96 L351.95 70.11 L352 70.23 L352.5 71.06 L353 71.78 L353.5 72.36 L354 72.92 L354.5 73.54 L355 74.13 L355.5 74.64 L356 75.07 L356.5 75.47 L357 75.85 L357.5 76.12 L358 76.37 L358.5 76.78 L359 77.18 L359.5 77.37 L360 77.71 L360.5 78.15 L361 78.36 L361.5 78.51 L362 78.8 L362.5 79.14 L363 79.35 L363.5 79.49 L364 79.73 L364.5 79.99 L365 80.25 L365.5 80.44 L366 80.48 L366.5 80.59 L367 80.93 L367.5 81.25 L368 81.39 L368.5 81.58 L369 81.77 L369.5 81.84 L370 81.97 L370.5 82.12 L371 82.28 L371.5 82.52 L372 82.69 L372.5 82.71 L373 82.76 L373.5 82.92 L374 83.14 L374.5 83.33 L375 83.44 L375.5 83.52 L376 83.71 L376.5 83.93 L377 84.05 L377.5 84.19 L378 84.3 L378.5 84.29 L379 84.38 L379.5 84.62 L380 84.75" fill="none" stroke="#a01818" stroke-width="1.3"/>
<path d="M263.6 188.1 L264.1 187.94 L264.6 187.86 L265.1 187.93 L265.6 188.14 L266.1 188.38 L266.6 188.44 L267.1 188.41 L267.6 188.47 L268.1 188.52 L268.6 188.52 L269.1 188.56 L269.6 188.51 L270.1 188.41 L270.6 188.57 L271.1 188.76 L271.6 188.73 L272.1 188.69 L272.6 188.69 L273.1 188.79 L273.6 188.9 L274.1 188.85 L274.6 188.66 L275.1 188.59 L275.6 188.69 L276.1 188.71 L276.6 188.81 L277.1 189.07 L277.6 189.09 L278.1 189 L278.6 189.14 L279.1 189.2 L279.6 189.16 L280.1 189.16 L280.6 189.07 L281.1 189.02 L281.6 189.05 L282.1 189.19 L282.6 189.31 L283.1 189.23 L283.6 189.19 L284.1 189.29 L284.6 189.4 L285.1 189.48 L285.6 189.52 L286.1 189.43 L286.6 189.36 L287.1 189.45 L287.6 189.5 L288.1 189.51 L288.6 189.65 L289.1 189.74 L289.6 189.63 L290.1 189.64 L290.6 189.69 L291.1 189.56 L291.6 189.44 L292.1 189.48 L292.6 189.61 L293.1 189.66 L293.6 189.61 L294.1 189.65 L294.6 189.75 L295.1 189.67 L295.6 189.51 L296.1 189.54 L296.6 189.64 L297.1 189.66 L297.6 189.58 L298.1 189.51 L298.6 189.44 L299.1 189.38 L299.6 189.42 L300 189.45 L300.05 189.45 L300.1 189.38 L300.15 189.34 L300.2 189.31 L300.25 189.35 L300.3 189.44 L300.35 189.45 L300.4 189.4 L300.45 189.36 L300.5 189.31 L300.55 189.26 L300.6 189.27 L300.65 189.36 L300.7 189.43 L300.75 189.42 L300.8 189.41 L300.85 189.44 L300.9 189.44 L300.95 189.44 L301 189.44 L301.05 189.36 L301.1 189.32 L301.15 189.33 L301.2 189.32 L301.25 189.38 L301.3 189.45 L301.35 189.4 L301.4 189.24 L301.45 189.16 L301.5 189.21 L301.55 189.3 L301.6 189.33 L301.65 189.26 L301.7 189.24 L301.75 189.27 L301.8 189.21 L301.85 189.26 L301.9 189.41 L301.95 189.42 L302 189.32 L302.05 189.19 L302.1 189.13 L302.15 189.17 L302.2 189.19 L302.25 189.14 L302.3 189.1 L302.35 189.09 L302.4 189.1 L302.45 189.17 L302.5 189.22 L302.55 189.09 L302.6 188.9 L302.65 188.84 L302.7 188.83 L302.75 188.9 L302.8 189.02 L302.85 189 L302.9 188.93 L302.95 188.9 L303 188.81 L303.05 188.71 L303.1 188.68 L303.15 188.79 L303.2 188.85 L303.25 188.81 L303.3 188.87 L303.35 188.9 L303.4 188.77 L303.45 188.68 L303.5 188.64 L303.55 188.66 L303.6 188.68 L303.65 188.66 L303.7 188.69 L303.75 188.68 L303.8 188.59 L303.85 188.52 L303.9 188.48 L303.95 188.41 L304 188.34 L304.05 188.36 L304.1 188.32 L304.15 188.3 L304.2 188.32 L304.25 188.18 L304.3 188.07 L304.35 188.03 L304.4 187.92 L304.45 187.84 L304.5 187.79 L304.55 187.76 L304.6 187.77 L304.65 187.77 L304.7 187.74 L304.75 187.67 L304.8 187.59 L304.85 187.46 L304.9 187.34 L304.95 187.26 L305 187.13 L305.05 187.04 L305.1 187.01 L305.15 186.91 L305.2 186.77 L305.25 186.67 L305.3 186.52 L305.35 186.33 L305.4 186.16 L305.45 186 L305.5 185.81 L305.55 185.62 L305.6 185.41 L305.65 185.14 L305.7 184.84 L305.75 184.54 L305.8 184.23 L305.85 183.94 L305.9 183.63 L305.95 183.28 L306 182.9 L306.05 182.57 L306.1 182.24 L306.15 181.88 L306.2 181.5 L306.25 181.11 L306.3 180.74 L306.35 180.37 L306.4 180 L306.45 179.64 L306.5 179.25 L306.55 178.85 L306.6 178.44 L306.65 178.01 L306.7 177.59 L306.75 177.18 L306.8 176.73 L306.85 176.25 L306.9 175.78 L306.95 175.32 L307 174.84 L307.05 174.31 L307.1 173.74 L307.15 173.15 L307.2 172.57 L307.25 171.98 L307.3 171.35 L307.35 170.69 L307.4 170.01 L307.45 169.3 L307.5 168.51 L307.55 167.65 L307.6 166.74 L307.65 165.8 L307.7 164.79 L307.75 163.74 L307.8 162.63 L307.85 161.46 L307.9 160.26 L307.95 159.01 L308 157.72 L308.05 156.39 L308.1 155.01 L308.15 153.5 L308.2 151.79 L308.25 149.95 L308.3 147.99 L308.35 145.98 L308.4 143.95 L308.45 141.94 L308.5 140 L308.55 137.84 L308.6 135.36 L308.65 132.88 L308.7 130.71 L308.75 129.18 L308.8 128.5 L308.85 129.2 L308.9 130.79 L308.95 133.02 L309 135.54 L309.05 137.99 L309.1 140.01 L309.15 141.69 L309.2 143.34 L309.25 144.98 L309.3 146.59 L309.35 148.15 L309.4 149.65 L309.45 151.1 L309.5 152.48 L309.55 153.77 L309.6 154.99 L309.65 156.16 L309.7 157.31 L309.75 158.45 L309.8 159.57 L309.85 160.67 L309.9 161.75 L309.95 162.79 L310 163.78 L310.05 164.74 L310.1 165.65 L310.15 166.51 L310.2 167.32 L310.25 168.08 L310.3 168.77 L310.35 169.41 L310.4 169.99 L310.45 170.52 L310.5 171.05 L310.55 171.53 L310.6 171.98 L310.65 172.46 L310.7 172.95 L310.75 173.38 L310.8 173.79 L310.85 174.15 L310.9 174.49 L310.95 174.87 L311 175.26 L311.05 175.6 L311.1 175.9 L311.15 176.2 L311.2 176.49 L311.25 176.75 L311.3 177.05 L311.35 177.38 L311.4 177.63 L311.45 177.83 L311.5 178.04 L311.55 178.21 L311.6 178.35 L311.65 178.55 L311.7 178.8 L311.75 179.05 L311.8 179.27 L311.85 179.44 L311.9 179.56 L311.95 179.72 L312 179.94 L312.05 180.11 L312.1 180.22 L312.15 180.37 L312.2 180.6 L312.25 180.78 L312.3 180.89 L312.35 181.03 L312.4 181.2 L312.45 181.34 L312.5 181.48 L312.55 181.61 L312.6 181.66 L312.65 181.71 L312.7 181.76 L312.75 181.79 L312.8 181.95 L312.85 182.14 L312.9 182.19 L312.95 182.21 L313 182.23 L313.05 182.23 L313.1 182.33 L313.15 182.49 L313.2 182.53 L313.25 182.54 L313.3 182.68 L313.35 182.77 L313.4 182.74 L313.45 182.71 L313.5 182.63 L313.55 182.66 L313.6 182.83 L313.65 182.92 L313.7 182.92 L313.75 182.92 L313.8 182.99 L313.85 183.14 L313.9 183.2 L313.95 183.08 L314 183.04 L314.05 183.2 L314.1 183.29 L314.15 183.27 L314.2 183.34 L314.25 183.42 L314.3 183.36 L314.35 183.23 L314.4 183.12 L314.45 183.13 L314.5 183.2 L314.55 183.27 L314.6 183.29 L314.65 183.31 L314.7 183.34 L314.75 183.23 L314.8 183.17 L314.85 183.16 L314.9 183.11 L314.95 183.13 L315 183.11 L315.05 183.06 L315.1 183.04 L315.15 182.93 L315.2 182.79 L315.25 182.63 L315.3 182.51 L315.35 182.46 L315.4 182.4 L315.45 182.33 L315.5 182.21 L315.55 182.02 L315.6 181.89 L315.65 181.84 L315.7 181.8 L315.75 181.67 L315.8 181.49 L315.85 181.39 L315.9 181.3 L315.95 181.17 L316 181 L316.05 180.85 L316.1 180.78 L316.15 180.68 L316.2 180.55 L316.25 180.4 L316.3 180.18 L316.35 179.98 L316.4 179.78 L316.45 179.54 L316.5 179.26 L316.55 178.98 L316.6 178.7 L316.65 178.42 L316.7 178.12 L316.75 177.8 L316.8 177.47 L316.85 177.1 L316.9 176.77 L316.95 176.46 L317 176.08 L317.05 175.73 L317.1 175.43 L317.15 175.09 L317.2 174.74 L317.25 174.42 L317.3 174.09 L317.35 173.77 L317.4 173.5 L317.45 173.23 L317.5 172.96 L317.55 172.71 L317.6 172.46 L317.65 172.22 L317.7 171.98 L317.75 171.71 L317.8 171.42 L317.85 171.12 L317.9 170.86 L317.95 170.66 L318 170.46 L318.05 170.21 L318.1 169.95 L318.15 169.73 L318.2 169.51 L318.25 169.33 L318.3 169.16 L318.35 169.01 L318.4 168.86 L318.45 168.71 L318.5 168.58 L318.55 168.46 L318.6 168.4 L318.65 168.46 L318.7 168.46 L318.75 168.27 L318.8 168.05 L318.85 167.95 L318.9 167.89 L318.95 167.75 L319 167.69 L319.05 167.68 L319.1 167.66 L319.15 167.74 L319.2 167.73 L319.25 167.57 L319.3 167.46 L319.35 167.41 L319.4 167.47 L319.45 167.64 L319.5 167.73 L319.55 167.76 L319.6 167.76 L319.65 167.79 L319.7 167.82 L319.75 167.85 L319.8 167.99 L319.85 168.18 L319.9 168.23 L319.95 168.22 L320 168.31 L320.05 168.49 L320.1 168.56 L320.15 168.52 L320.2 168.6 L320.25 168.77 L320.3 168.87 L320.35 168.92 L320.4 169 L320.45 169.14 L320.5 169.29 L320.55 169.35 L320.6 169.38 L320.65 169.5 L320.7 169.66 L320.75 169.75 L320.8 169.82 L320.85 169.94 L320.9 170.04 L320.95 170.16 L321 170.28 L321.05 170.42 L321.1 170.58 L321.15 170.74 L321.2 170.94 L321.25 171.1 L321.3 171.19 L321.35 171.31 L321.4 171.44 L321.45 171.51 L321.5 171.64 L321.55 171.87 L321.6 172.06 L321.65 172.17 L321.7 172.22 L321.75 172.28 L321.8 172.42 L321.85 172.57 L321.9 172.64 L321.95 172.71 L322 172.8 L322.05 172.95 L322.1 173.15 L322.15 173.27 L322.2 173.33 L322.25 173.45 L322.3 173.64 L322.35 173.82 L322.4 173.96 L322.45 174.12 L322.5 174.3 L322.55 174.55 L322.6 174.85 L322.65 175.11 L322.7 175.34 L322.75 175.62 L322.8 175.94 L322.85 176.23 L322.9 176.54 L322.95 176.87 L323 177.21 L323.05 177.54 L323.1 177.86 L323.15 178.16 L323.2 178.49 L323.25 178.83 L323.3 179.18 L323.35 179.6 L323.4 180.03 L323.45 180.45 L323.5 180.9 L323.55 181.35 L323.6 181.77 L323.65 182.21 L323.7 182.63 L323.75 183.02 L323.8 183.37 L323.85 183.69 L323.9 184.01 L323.95 184.33 L324 184.59 L324.05 184.81 L324.1 185.06 L324.15 185.33 L324.2 185.61 L324.25 185.9 L324.3 186.15 L324.35 186.35 L324.4 186.6 L324.45 186.83 L324.5 187.01 L324.55 187.21 L324.6 187.42 L324.65 187.63 L324.7 187.81 L324.75 187.95 L324.8 188.13 L324.85 188.3 L324.9 188.45 L324.95 188.58 L325 188.68 L325.05 188.77 L325.1 188.84 L325.15 188.87 L325.2 188.92 L325.25 189.05 L325.3 189.2 L325.35 189.25 L325.4 189.19 L325.45 189.28 L325.5 189.4 L325.55 189.4 L325.6 189.52 L325.65 189.72 L325.7 189.74 L325.75 189.71 L325.8 189.82 L325.85 189.92 L325.9 189.93 L325.95 189.93 L326 189.93 L326.05 189.91 L326.1 189.98 L326.15 190.09 L326.2 190.19 L326.25 190.25 L326.3 190.13 L326.35 190.02 L326.4 190.14 L326.45 190.29 L326.5 190.33 L326.55 190.32 L326.6 190.35 L326.65 190.44 L326.7 190.44 L326.75 190.46 L326.8 190.43 L326.85 190.45 L326.9 190.49 L326.95 190.39 L327 190.44 L327.05 190.59 L327.1 190.64 L327.15 190.69 L327.2 190.68 L327.25 190.74 L327.3 190.86 L327.35 190.8 L327.4 190.71 L327.45 190.68 L327.5 190.74 L327.55 190.88 L327.6 190.92 L327.65 190.87 L327.7 190.87 L327.75 190.88 L327.8 190.83 L327.85 190.86 L327.9 190.92 L327.95 190.93 L328 190.97 L328.5 191.12 L329 191.33 L329.5 191.62 L330 191.78 L330.5 191.84 L331 191.9 L331.5 192.02 L332 192.15 L332.5 192.31 L333 192.4 L333.5 192.32 L334 192.3 L334.5 192.2 L335 192.03 L335.5 192.17 L336 192.46 L336.5 192.56 L337 192.59 L337.5 192.73 L338 192.78 L338.5 192.75 L339 192.88 L339.5 192.96 L340 192.83 L340.5 192.78 L341 192.89 L341.5 192.87 L342 192.83 L342.5 192.87 L343 192.93 L343.5 193.07 L344 193.17 L344.5 193.2 L345 193.15 L345.5 193.07 L346 193.16 L346.5 193.26 L347 193.39 L347.5 193.53 L348 193.43 L348.5 193.38 L349 193.54 L349.5 193.58 L350 193.52 L350.5 193.53 L351 193.63 L351.5 193.72 L352 193.71 L352.5 193.67 L353 193.74 L353.5 193.83 L354 193.69 L354.5 193.47 L355 193.53 L355.5 193.68 L356 193.77 L356.5 193.89 L357 193.98 L357.5 193.98 L358 193.93 L358.5 194.01 L359 194.08 L359.5 194.01 L360 194.07 L360.5 194.19 L361 194.05 L361.5 193.92 L362 194.01 L362.5 194.09 L363 194.15 L363.5 194.26 L364 194.25 L364.5 194.23 L365 194.3 L365.5 194.32 L366 194.3 L366.5 194.32 L367 194.32 L367.5 194.27 L368 194.28 L368.5 194.29 L369 194.23 L369.5 194.29 L370 194.45 L370.5 194.45 L371 194.41 L371.5 194.43 L372 194.46 L372.5 194.48 L373 194.46 L373.5 194.48 L374 194.54 L374.5 194.56 L375 194.52 L375.5 194.39 L376 194.44 L376.5 194.62 L377 194.6 L377.5 194.56 L378 194.58 L378.5 194.56 L379 194.51 L379.5 194.45 L380 194.5 L380.5 194.63 L381 194.75 L381.5 194.8" fill="none" stroke="#777" stroke-width="1.3"/>
<g font-size="8.5" fill="#222" stroke="#222" stroke-width="0.12" text-anchor="middle"><text x="263.6" y="101.5">25</text><text x="286.9" y="101.5">30</text><text x="310.2" y="101.5">35</text><text x="333.5" y="101.5">40</text><text x="356.8" y="101.5">45</text><text x="380.1" y="101.5">50</text><text x="263.4" y="214.3">25</text><text x="287.04" y="214.3">30</text><text x="310.68" y="214.3">35</text><text x="334.32" y="214.3">40</text><text x="357.96" y="214.3">45</text><text x="381.6" y="214.3">50</text></g>
<g font-size="8.4" fill="#222">
<text x="305.6" y="111.8">2<tspan font-family="'Liberation Serif', serif">θ</tspan> (deg.)</text>
<text x="307" y="224">2<tspan font-family="'Liberation Serif', serif">θ</tspan> (deg.)</text>
</g>
<g font-size="8.2" fill="#333">
<text transform="translate(256 83) rotate(-90)" textLength="71.8" lengthAdjust="spacingAndGlyphs">Intensity (arb. units)</text>
<text transform="translate(254.2 199.8) rotate(-90)" textLength="72.2" lengthAdjust="spacingAndGlyphs">Intensity (arb. units)</text>
</g>
<g font-size="9.2" fill="#1a1a1a" stroke="#1a1a1a" stroke-width="0.22">
<text x="302.6" y="18.4">MgO(200)</text>
<text x="305.6" y="43.3">Zn<tspan font-size="6" dy="2">3</tspan><tspan dy="-2">N</tspan><tspan font-size="6" dy="2">2</tspan></text>
<text x="306.6" y="54.6">(400)</text>
<text x="269.2" y="133.3" font-size="9.3" textLength="33.8" lengthAdjust="spacingAndGlyphs">YSZ(200)</text>
<text x="315" y="150.2">Zn<tspan font-size="6" dy="2">3</tspan><tspan dy="-2">N</tspan><tspan font-size="6" dy="2">2</tspan></text>
<text x="315.4" y="162.2">(400)</text>
</g>
<text transform="translate(269.4 71.7) scale(0.86 1)" font-size="12.6" fill="#9a1515">F</text>
<text x="269.3" y="183" font-size="12.6" fill="#858585">G</text>

<!-- ===== Panel C ===== -->
<text x="387.5" y="16.4" font-size="13" font-weight="bold" fill="#111">(c)</text>
<rect x="408" y="4.8" width="42" height="96.6" fill="url(#c1)"/>
<g filter="url(#bl)">
<ellipse cx="423.9" cy="32" rx="1.3" ry="5" fill="#8a8a8a" opacity="0.45"/>
<ellipse cx="428.9" cy="32" rx="1.2" ry="4.5" fill="#8a8a8a" opacity="0.35"/>
<ellipse cx="434.6" cy="33" rx="1.3" ry="5" fill="#8a8a8a" opacity="0.4"/>
<ellipse cx="442.6" cy="42" rx="1.8" ry="12" fill="#9a9a9a" opacity="0.6"/>
<ellipse cx="440" cy="29" rx="8" ry="2" fill="#6a6a6a" opacity="0.4"/>
</g>
<path d="M410.5 19 Q413.5 10 421 6.5" stroke="#2c2c2c" stroke-width="1" fill="none" filter="url(#bl2)"/>
<rect x="408.4" y="5.1" width="41" height="96" fill="none" stroke="#262626" stroke-width="0.8" opacity="0.7"/>
<rect x="407" y="114.4" width="43" height="101.3" fill="url(#c2)"/>
<rect x="407" y="136" width="43" height="79.7" fill="url(#c2h)"/>
<rect x="407" y="135.5" width="43" height="40" fill="url(#glow)"/>
<circle cx="428.7" cy="154" r="9" fill="url(#halo)"/>
<circle cx="423.3" cy="132.8" r="1.3" fill="#080808" opacity="0.9"/><circle cx="434.4" cy="132.8" r="0.9" fill="#080808" opacity="0.3"/><circle cx="445.2" cy="132.8" r="1.3" fill="#080808" opacity="0.9"/><circle cx="417.9" cy="140.2" r="2.5" fill="#a8a8a8" opacity="0.22"/><circle cx="417.9" cy="140.2" r="1.4" fill="#080808" opacity="1"/><circle cx="428.7" cy="140.2" r="2.5" fill="#a8a8a8" opacity="0.22"/><circle cx="428.7" cy="140.2" r="1.4" fill="#080808" opacity="1"/><circle cx="439.5" cy="140.2" r="2.5" fill="#a8a8a8" opacity="0.22"/><circle cx="439.5" cy="140.2" r="1.4" fill="#080808" opacity="1"/><circle cx="412.0" cy="148.0" r="0.9" fill="#080808" opacity="0.15"/><circle cx="423.2" cy="148.0" r="2.5" fill="#a8a8a8" opacity="0.22"/><circle cx="423.2" cy="148.0" r="1.4" fill="#080808" opacity="1"/><circle cx="434.1" cy="148.0" r="0.9" fill="#080808" opacity="0.18"/><circle cx="445.2" cy="148.0" r="2.5" fill="#a8a8a8" opacity="0.22"/><circle cx="445.2" cy="148.0" r="1.4" fill="#080808" opacity="1"/><circle cx="428.7" cy="156.0" r="3.9" fill="#a8a8a8" opacity="0.22"/><circle cx="428.7" cy="156.0" r="2.8" fill="#080808" opacity="1"/><circle cx="412.0" cy="163.7" r="0.8" fill="#080808" opacity="0.12"/><circle cx="423.2" cy="163.7" r="2.5" fill="#a8a8a8" opacity="0.22"/><circle cx="423.2" cy="163.7" r="1.4" fill="#080808" opacity="1"/><circle cx="434.1" cy="163.7" r="0.9" fill="#080808" opacity="0.18"/><circle cx="445.2" cy="163.7" r="2.5" fill="#a8a8a8" opacity="0.22"/><circle cx="445.2" cy="163.7" r="1.4" fill="#080808" opacity="1"/><circle cx="417.9" cy="171.5" r="2.5" fill="#a8a8a8" opacity="0.22"/><circle cx="417.9" cy="171.5" r="1.4" fill="#080808" opacity="1"/><circle cx="428.7" cy="171.5" r="2.5" fill="#a8a8a8" opacity="0.22"/><circle cx="428.7" cy="171.5" r="1.4" fill="#080808" opacity="1"/><circle cx="439.5" cy="171.5" r="2.5" fill="#a8a8a8" opacity="0.22"/><circle cx="439.5" cy="171.5" r="1.4" fill="#080808" opacity="1"/><circle cx="423.2" cy="179.2" r="2.5" fill="#a8a8a8" opacity="0.22"/><circle cx="423.2" cy="179.2" r="1.4" fill="#080808" opacity="1"/><circle cx="434.1" cy="179.2" r="0.9" fill="#080808" opacity="0.5"/><circle cx="445.2" cy="179.2" r="2.5" fill="#a8a8a8" opacity="0.22"/><circle cx="445.2" cy="179.2" r="1.4" fill="#080808" opacity="1"/><circle cx="428.7" cy="186.8" r="2.9000000000000004" fill="#a8a8a8" opacity="0.22"/><circle cx="428.7" cy="186.8" r="1.8" fill="#080808" opacity="1"/><circle cx="439.3" cy="186.8" r="0.8" fill="#080808" opacity="0.25"/><circle cx="412.1" cy="194.5" r="2.4000000000000004" fill="#a8a8a8" opacity="0.22"/><circle cx="412.1" cy="194.5" r="1.3" fill="#080808" opacity="0.95"/><circle cx="423.2" cy="194.5" r="2.4000000000000004" fill="#a8a8a8" opacity="0.22"/><circle cx="423.2" cy="194.5" r="1.3" fill="#080808" opacity="0.95"/><circle cx="434.1" cy="194.5" r="1.1" fill="#080808" opacity="0.8"/><circle cx="445.2" cy="194.5" r="2.4000000000000004" fill="#a8a8a8" opacity="0.22"/><circle cx="445.2" cy="194.5" r="1.3" fill="#080808" opacity="0.95"/><circle cx="417.9" cy="202.2" r="2.4000000000000004" fill="#a8a8a8" opacity="0.22"/><circle cx="417.9" cy="202.2" r="1.3" fill="#080808" opacity="0.95"/><circle cx="428.7" cy="202.2" r="1.0" fill="#080808" opacity="0.7"/><circle cx="439.5" cy="202.2" r="1.0" fill="#080808" opacity="0.7"/><circle cx="412.1" cy="210.0" r="1.0" fill="#080808" opacity="0.7"/><circle cx="423.2" cy="210.0" r="2.6" fill="#a8a8a8" opacity="0.22"/><circle cx="423.2" cy="210.0" r="1.5" fill="#080808" opacity="1"/><circle cx="434.1" cy="210.0" r="1.0" fill="#080808" opacity="0.7"/><circle cx="445.2" cy="210.0" r="2.4000000000000004" fill="#a8a8a8" opacity="0.22"/><circle cx="445.2" cy="210.0" r="1.3" fill="#080808" opacity="0.95"/>
<rect x="407.4" y="114.7" width="42" height="100.8" fill="none" stroke="#222" stroke-width="0.8" opacity="0.7"/>
<path d="M407 211.5 L407 215.9 L411.5 215.9 Q408.2 215.2 407.8 211.5 Z" fill="#111" opacity="0.75"/>
</svg>
</body></html>
